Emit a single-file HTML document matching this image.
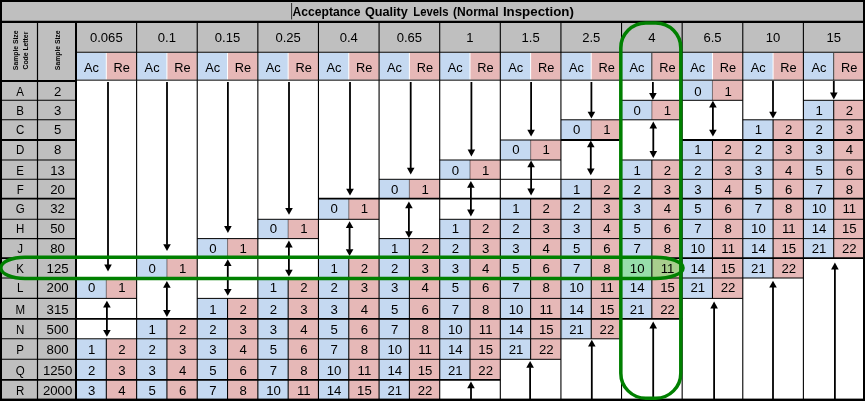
<!DOCTYPE html>
<html><head><meta charset="utf-8"><title>AQL Table</title>
<style>html,body{margin:0;padding:0;background:#fff;font-family:"Liberation Sans",sans-serif;}svg{display:block;will-change:transform;}</style>
</head><body>
<svg width="865" height="401" viewBox="0 0 865 401" font-family="Liberation Sans, sans-serif" fill="#000">
<rect x="0" y="0" width="865" height="401" fill="#fff"/>
<rect x="0" y="0" width="865" height="22" fill="#bfbfbf"/>
<rect x="0" y="22" width="76" height="379" fill="#bfbfbf"/>
<rect x="76" y="22" width="789" height="30.2" fill="#bfbfbf"/>
<rect x="76.50" y="52.8" width="29.31" height="26.9" fill="#c5d9f1"/>
<rect x="106.81" y="52.8" width="29.31" height="26.9" fill="#e6b8b7"/>
<rect x="137.12" y="52.8" width="29.31" height="26.9" fill="#c5d9f1"/>
<rect x="167.42" y="52.8" width="29.31" height="26.9" fill="#e6b8b7"/>
<rect x="197.73" y="52.8" width="29.31" height="26.9" fill="#c5d9f1"/>
<rect x="228.04" y="52.8" width="29.31" height="26.9" fill="#e6b8b7"/>
<rect x="258.35" y="52.8" width="29.31" height="26.9" fill="#c5d9f1"/>
<rect x="288.66" y="52.8" width="29.31" height="26.9" fill="#e6b8b7"/>
<rect x="318.96" y="52.8" width="29.31" height="26.9" fill="#c5d9f1"/>
<rect x="349.27" y="52.8" width="29.31" height="26.9" fill="#e6b8b7"/>
<rect x="379.58" y="52.8" width="29.31" height="26.9" fill="#c5d9f1"/>
<rect x="409.89" y="52.8" width="29.31" height="26.9" fill="#e6b8b7"/>
<rect x="440.20" y="52.8" width="29.31" height="26.9" fill="#c5d9f1"/>
<rect x="470.50" y="52.8" width="29.31" height="26.9" fill="#e6b8b7"/>
<rect x="500.81" y="52.8" width="29.31" height="26.9" fill="#c5d9f1"/>
<rect x="531.12" y="52.8" width="29.31" height="26.9" fill="#e6b8b7"/>
<rect x="561.43" y="52.8" width="29.31" height="26.9" fill="#c5d9f1"/>
<rect x="591.74" y="52.8" width="29.31" height="26.9" fill="#e6b8b7"/>
<rect x="622.04" y="52.8" width="29.31" height="26.9" fill="#c5d9f1"/>
<rect x="652.35" y="52.8" width="29.31" height="26.9" fill="#e6b8b7"/>
<rect x="682.66" y="52.8" width="29.31" height="26.9" fill="#c5d9f1"/>
<rect x="712.97" y="52.8" width="29.31" height="26.9" fill="#e6b8b7"/>
<rect x="743.28" y="52.8" width="29.31" height="26.9" fill="#c5d9f1"/>
<rect x="773.58" y="52.8" width="29.31" height="26.9" fill="#e6b8b7"/>
<rect x="803.89" y="52.8" width="29.31" height="26.9" fill="#c5d9f1"/>
<rect x="834.20" y="52.8" width="29.31" height="26.9" fill="#e6b8b7"/>
<rect x="76.00" y="278.00" width="30.31" height="20.40" fill="#c5d9f1"/>
<rect x="106.31" y="278.00" width="30.31" height="20.40" fill="#e6b8b7"/>
<rect x="76.00" y="338.80" width="30.31" height="20.50" fill="#c5d9f1"/>
<rect x="106.31" y="338.80" width="30.31" height="20.50" fill="#e6b8b7"/>
<rect x="76.00" y="359.30" width="30.31" height="20.50" fill="#c5d9f1"/>
<rect x="106.31" y="359.30" width="30.31" height="20.50" fill="#e6b8b7"/>
<rect x="76.00" y="379.80" width="30.31" height="19.70" fill="#c5d9f1"/>
<rect x="106.31" y="379.80" width="30.31" height="19.70" fill="#e6b8b7"/>
<rect x="136.62" y="258.20" width="30.31" height="19.80" fill="#c5d9f1"/>
<rect x="166.92" y="258.20" width="30.31" height="19.80" fill="#e6b8b7"/>
<rect x="136.62" y="318.80" width="30.31" height="20.00" fill="#c5d9f1"/>
<rect x="166.92" y="318.80" width="30.31" height="20.00" fill="#e6b8b7"/>
<rect x="136.62" y="338.80" width="30.31" height="20.50" fill="#c5d9f1"/>
<rect x="166.92" y="338.80" width="30.31" height="20.50" fill="#e6b8b7"/>
<rect x="136.62" y="359.30" width="30.31" height="20.50" fill="#c5d9f1"/>
<rect x="166.92" y="359.30" width="30.31" height="20.50" fill="#e6b8b7"/>
<rect x="136.62" y="379.80" width="30.31" height="19.70" fill="#c5d9f1"/>
<rect x="166.92" y="379.80" width="30.31" height="19.70" fill="#e6b8b7"/>
<rect x="197.23" y="238.60" width="30.31" height="19.60" fill="#c5d9f1"/>
<rect x="227.54" y="238.60" width="30.31" height="19.60" fill="#e6b8b7"/>
<rect x="197.23" y="298.40" width="30.31" height="20.40" fill="#c5d9f1"/>
<rect x="227.54" y="298.40" width="30.31" height="20.40" fill="#e6b8b7"/>
<rect x="197.23" y="318.80" width="30.31" height="20.00" fill="#c5d9f1"/>
<rect x="227.54" y="318.80" width="30.31" height="20.00" fill="#e6b8b7"/>
<rect x="197.23" y="338.80" width="30.31" height="20.50" fill="#c5d9f1"/>
<rect x="227.54" y="338.80" width="30.31" height="20.50" fill="#e6b8b7"/>
<rect x="197.23" y="359.30" width="30.31" height="20.50" fill="#c5d9f1"/>
<rect x="227.54" y="359.30" width="30.31" height="20.50" fill="#e6b8b7"/>
<rect x="197.23" y="379.80" width="30.31" height="19.70" fill="#c5d9f1"/>
<rect x="227.54" y="379.80" width="30.31" height="19.70" fill="#e6b8b7"/>
<rect x="257.85" y="219.30" width="30.31" height="19.30" fill="#c5d9f1"/>
<rect x="288.16" y="219.30" width="30.31" height="19.30" fill="#e6b8b7"/>
<rect x="257.85" y="278.00" width="30.31" height="20.40" fill="#c5d9f1"/>
<rect x="288.16" y="278.00" width="30.31" height="20.40" fill="#e6b8b7"/>
<rect x="257.85" y="298.40" width="30.31" height="20.40" fill="#c5d9f1"/>
<rect x="288.16" y="298.40" width="30.31" height="20.40" fill="#e6b8b7"/>
<rect x="257.85" y="318.80" width="30.31" height="20.00" fill="#c5d9f1"/>
<rect x="288.16" y="318.80" width="30.31" height="20.00" fill="#e6b8b7"/>
<rect x="257.85" y="338.80" width="30.31" height="20.50" fill="#c5d9f1"/>
<rect x="288.16" y="338.80" width="30.31" height="20.50" fill="#e6b8b7"/>
<rect x="257.85" y="359.30" width="30.31" height="20.50" fill="#c5d9f1"/>
<rect x="288.16" y="359.30" width="30.31" height="20.50" fill="#e6b8b7"/>
<rect x="257.85" y="379.80" width="30.31" height="19.70" fill="#c5d9f1"/>
<rect x="288.16" y="379.80" width="30.31" height="19.70" fill="#e6b8b7"/>
<rect x="318.46" y="198.60" width="30.31" height="20.70" fill="#c5d9f1"/>
<rect x="348.77" y="198.60" width="30.31" height="20.70" fill="#e6b8b7"/>
<rect x="318.46" y="258.20" width="30.31" height="19.80" fill="#c5d9f1"/>
<rect x="348.77" y="258.20" width="30.31" height="19.80" fill="#e6b8b7"/>
<rect x="318.46" y="278.00" width="30.31" height="20.40" fill="#c5d9f1"/>
<rect x="348.77" y="278.00" width="30.31" height="20.40" fill="#e6b8b7"/>
<rect x="318.46" y="298.40" width="30.31" height="20.40" fill="#c5d9f1"/>
<rect x="348.77" y="298.40" width="30.31" height="20.40" fill="#e6b8b7"/>
<rect x="318.46" y="318.80" width="30.31" height="20.00" fill="#c5d9f1"/>
<rect x="348.77" y="318.80" width="30.31" height="20.00" fill="#e6b8b7"/>
<rect x="318.46" y="338.80" width="30.31" height="20.50" fill="#c5d9f1"/>
<rect x="348.77" y="338.80" width="30.31" height="20.50" fill="#e6b8b7"/>
<rect x="318.46" y="359.30" width="30.31" height="20.50" fill="#c5d9f1"/>
<rect x="348.77" y="359.30" width="30.31" height="20.50" fill="#e6b8b7"/>
<rect x="318.46" y="379.80" width="30.31" height="19.70" fill="#c5d9f1"/>
<rect x="348.77" y="379.80" width="30.31" height="19.70" fill="#e6b8b7"/>
<rect x="379.08" y="179.30" width="30.31" height="19.30" fill="#c5d9f1"/>
<rect x="409.39" y="179.30" width="30.31" height="19.30" fill="#e6b8b7"/>
<rect x="379.08" y="238.60" width="30.31" height="19.60" fill="#c5d9f1"/>
<rect x="409.39" y="238.60" width="30.31" height="19.60" fill="#e6b8b7"/>
<rect x="379.08" y="258.20" width="30.31" height="19.80" fill="#c5d9f1"/>
<rect x="409.39" y="258.20" width="30.31" height="19.80" fill="#e6b8b7"/>
<rect x="379.08" y="278.00" width="30.31" height="20.40" fill="#c5d9f1"/>
<rect x="409.39" y="278.00" width="30.31" height="20.40" fill="#e6b8b7"/>
<rect x="379.08" y="298.40" width="30.31" height="20.40" fill="#c5d9f1"/>
<rect x="409.39" y="298.40" width="30.31" height="20.40" fill="#e6b8b7"/>
<rect x="379.08" y="318.80" width="30.31" height="20.00" fill="#c5d9f1"/>
<rect x="409.39" y="318.80" width="30.31" height="20.00" fill="#e6b8b7"/>
<rect x="379.08" y="338.80" width="30.31" height="20.50" fill="#c5d9f1"/>
<rect x="409.39" y="338.80" width="30.31" height="20.50" fill="#e6b8b7"/>
<rect x="379.08" y="359.30" width="30.31" height="20.50" fill="#c5d9f1"/>
<rect x="409.39" y="359.30" width="30.31" height="20.50" fill="#e6b8b7"/>
<rect x="379.08" y="379.80" width="30.31" height="19.70" fill="#c5d9f1"/>
<rect x="409.39" y="379.80" width="30.31" height="19.70" fill="#e6b8b7"/>
<rect x="439.70" y="160.00" width="30.31" height="19.30" fill="#c5d9f1"/>
<rect x="470.00" y="160.00" width="30.31" height="19.30" fill="#e6b8b7"/>
<rect x="439.70" y="219.30" width="30.31" height="19.30" fill="#c5d9f1"/>
<rect x="470.00" y="219.30" width="30.31" height="19.30" fill="#e6b8b7"/>
<rect x="439.70" y="238.60" width="30.31" height="19.60" fill="#c5d9f1"/>
<rect x="470.00" y="238.60" width="30.31" height="19.60" fill="#e6b8b7"/>
<rect x="439.70" y="258.20" width="30.31" height="19.80" fill="#c5d9f1"/>
<rect x="470.00" y="258.20" width="30.31" height="19.80" fill="#e6b8b7"/>
<rect x="439.70" y="278.00" width="30.31" height="20.40" fill="#c5d9f1"/>
<rect x="470.00" y="278.00" width="30.31" height="20.40" fill="#e6b8b7"/>
<rect x="439.70" y="298.40" width="30.31" height="20.40" fill="#c5d9f1"/>
<rect x="470.00" y="298.40" width="30.31" height="20.40" fill="#e6b8b7"/>
<rect x="439.70" y="318.80" width="30.31" height="20.00" fill="#c5d9f1"/>
<rect x="470.00" y="318.80" width="30.31" height="20.00" fill="#e6b8b7"/>
<rect x="439.70" y="338.80" width="30.31" height="20.50" fill="#c5d9f1"/>
<rect x="470.00" y="338.80" width="30.31" height="20.50" fill="#e6b8b7"/>
<rect x="439.70" y="359.30" width="30.31" height="20.50" fill="#c5d9f1"/>
<rect x="470.00" y="359.30" width="30.31" height="20.50" fill="#e6b8b7"/>
<rect x="500.31" y="140.00" width="30.31" height="20.00" fill="#c5d9f1"/>
<rect x="530.62" y="140.00" width="30.31" height="20.00" fill="#e6b8b7"/>
<rect x="500.31" y="198.60" width="30.31" height="20.70" fill="#c5d9f1"/>
<rect x="530.62" y="198.60" width="30.31" height="20.70" fill="#e6b8b7"/>
<rect x="500.31" y="219.30" width="30.31" height="19.30" fill="#c5d9f1"/>
<rect x="530.62" y="219.30" width="30.31" height="19.30" fill="#e6b8b7"/>
<rect x="500.31" y="238.60" width="30.31" height="19.60" fill="#c5d9f1"/>
<rect x="530.62" y="238.60" width="30.31" height="19.60" fill="#e6b8b7"/>
<rect x="500.31" y="258.20" width="30.31" height="19.80" fill="#c5d9f1"/>
<rect x="530.62" y="258.20" width="30.31" height="19.80" fill="#e6b8b7"/>
<rect x="500.31" y="278.00" width="30.31" height="20.40" fill="#c5d9f1"/>
<rect x="530.62" y="278.00" width="30.31" height="20.40" fill="#e6b8b7"/>
<rect x="500.31" y="298.40" width="30.31" height="20.40" fill="#c5d9f1"/>
<rect x="530.62" y="298.40" width="30.31" height="20.40" fill="#e6b8b7"/>
<rect x="500.31" y="318.80" width="30.31" height="20.00" fill="#c5d9f1"/>
<rect x="530.62" y="318.80" width="30.31" height="20.00" fill="#e6b8b7"/>
<rect x="500.31" y="338.80" width="30.31" height="20.50" fill="#c5d9f1"/>
<rect x="530.62" y="338.80" width="30.31" height="20.50" fill="#e6b8b7"/>
<rect x="560.93" y="119.80" width="30.31" height="20.20" fill="#c5d9f1"/>
<rect x="591.24" y="119.80" width="30.31" height="20.20" fill="#e6b8b7"/>
<rect x="560.93" y="179.30" width="30.31" height="19.30" fill="#c5d9f1"/>
<rect x="591.24" y="179.30" width="30.31" height="19.30" fill="#e6b8b7"/>
<rect x="560.93" y="198.60" width="30.31" height="20.70" fill="#c5d9f1"/>
<rect x="591.24" y="198.60" width="30.31" height="20.70" fill="#e6b8b7"/>
<rect x="560.93" y="219.30" width="30.31" height="19.30" fill="#c5d9f1"/>
<rect x="591.24" y="219.30" width="30.31" height="19.30" fill="#e6b8b7"/>
<rect x="560.93" y="238.60" width="30.31" height="19.60" fill="#c5d9f1"/>
<rect x="591.24" y="238.60" width="30.31" height="19.60" fill="#e6b8b7"/>
<rect x="560.93" y="258.20" width="30.31" height="19.80" fill="#c5d9f1"/>
<rect x="591.24" y="258.20" width="30.31" height="19.80" fill="#e6b8b7"/>
<rect x="560.93" y="278.00" width="30.31" height="20.40" fill="#c5d9f1"/>
<rect x="591.24" y="278.00" width="30.31" height="20.40" fill="#e6b8b7"/>
<rect x="560.93" y="298.40" width="30.31" height="20.40" fill="#c5d9f1"/>
<rect x="591.24" y="298.40" width="30.31" height="20.40" fill="#e6b8b7"/>
<rect x="560.93" y="318.80" width="30.31" height="20.00" fill="#c5d9f1"/>
<rect x="591.24" y="318.80" width="30.31" height="20.00" fill="#e6b8b7"/>
<rect x="621.54" y="100.30" width="30.31" height="19.50" fill="#c5d9f1"/>
<rect x="651.85" y="100.30" width="30.31" height="19.50" fill="#e6b8b7"/>
<rect x="621.54" y="160.00" width="30.31" height="19.30" fill="#c5d9f1"/>
<rect x="651.85" y="160.00" width="30.31" height="19.30" fill="#e6b8b7"/>
<rect x="621.54" y="179.30" width="30.31" height="19.30" fill="#c5d9f1"/>
<rect x="651.85" y="179.30" width="30.31" height="19.30" fill="#e6b8b7"/>
<rect x="621.54" y="198.60" width="30.31" height="20.70" fill="#c5d9f1"/>
<rect x="651.85" y="198.60" width="30.31" height="20.70" fill="#e6b8b7"/>
<rect x="621.54" y="219.30" width="30.31" height="19.30" fill="#c5d9f1"/>
<rect x="651.85" y="219.30" width="30.31" height="19.30" fill="#e6b8b7"/>
<rect x="621.54" y="238.60" width="30.31" height="19.60" fill="#c5d9f1"/>
<rect x="651.85" y="238.60" width="30.31" height="19.60" fill="#e6b8b7"/>
<rect x="621.54" y="258.20" width="30.31" height="19.80" fill="#c5d9f1"/>
<rect x="651.85" y="258.20" width="30.31" height="19.80" fill="#e6b8b7"/>
<rect x="621.54" y="278.00" width="30.31" height="20.40" fill="#c5d9f1"/>
<rect x="651.85" y="278.00" width="30.31" height="20.40" fill="#e6b8b7"/>
<rect x="621.54" y="298.40" width="30.31" height="20.40" fill="#c5d9f1"/>
<rect x="651.85" y="298.40" width="30.31" height="20.40" fill="#e6b8b7"/>
<rect x="682.16" y="80.40" width="30.31" height="19.90" fill="#c5d9f1"/>
<rect x="712.47" y="80.40" width="30.31" height="19.90" fill="#e6b8b7"/>
<rect x="682.16" y="140.00" width="30.31" height="20.00" fill="#c5d9f1"/>
<rect x="712.47" y="140.00" width="30.31" height="20.00" fill="#e6b8b7"/>
<rect x="682.16" y="160.00" width="30.31" height="19.30" fill="#c5d9f1"/>
<rect x="712.47" y="160.00" width="30.31" height="19.30" fill="#e6b8b7"/>
<rect x="682.16" y="179.30" width="30.31" height="19.30" fill="#c5d9f1"/>
<rect x="712.47" y="179.30" width="30.31" height="19.30" fill="#e6b8b7"/>
<rect x="682.16" y="198.60" width="30.31" height="20.70" fill="#c5d9f1"/>
<rect x="712.47" y="198.60" width="30.31" height="20.70" fill="#e6b8b7"/>
<rect x="682.16" y="219.30" width="30.31" height="19.30" fill="#c5d9f1"/>
<rect x="712.47" y="219.30" width="30.31" height="19.30" fill="#e6b8b7"/>
<rect x="682.16" y="238.60" width="30.31" height="19.60" fill="#c5d9f1"/>
<rect x="712.47" y="238.60" width="30.31" height="19.60" fill="#e6b8b7"/>
<rect x="682.16" y="258.20" width="30.31" height="19.80" fill="#c5d9f1"/>
<rect x="712.47" y="258.20" width="30.31" height="19.80" fill="#e6b8b7"/>
<rect x="682.16" y="278.00" width="30.31" height="20.40" fill="#c5d9f1"/>
<rect x="712.47" y="278.00" width="30.31" height="20.40" fill="#e6b8b7"/>
<rect x="742.78" y="119.80" width="30.31" height="20.20" fill="#c5d9f1"/>
<rect x="773.08" y="119.80" width="30.31" height="20.20" fill="#e6b8b7"/>
<rect x="742.78" y="140.00" width="30.31" height="20.00" fill="#c5d9f1"/>
<rect x="773.08" y="140.00" width="30.31" height="20.00" fill="#e6b8b7"/>
<rect x="742.78" y="160.00" width="30.31" height="19.30" fill="#c5d9f1"/>
<rect x="773.08" y="160.00" width="30.31" height="19.30" fill="#e6b8b7"/>
<rect x="742.78" y="179.30" width="30.31" height="19.30" fill="#c5d9f1"/>
<rect x="773.08" y="179.30" width="30.31" height="19.30" fill="#e6b8b7"/>
<rect x="742.78" y="198.60" width="30.31" height="20.70" fill="#c5d9f1"/>
<rect x="773.08" y="198.60" width="30.31" height="20.70" fill="#e6b8b7"/>
<rect x="742.78" y="219.30" width="30.31" height="19.30" fill="#c5d9f1"/>
<rect x="773.08" y="219.30" width="30.31" height="19.30" fill="#e6b8b7"/>
<rect x="742.78" y="238.60" width="30.31" height="19.60" fill="#c5d9f1"/>
<rect x="773.08" y="238.60" width="30.31" height="19.60" fill="#e6b8b7"/>
<rect x="742.78" y="258.20" width="30.31" height="19.80" fill="#c5d9f1"/>
<rect x="773.08" y="258.20" width="30.31" height="19.80" fill="#e6b8b7"/>
<rect x="803.39" y="100.30" width="30.31" height="19.50" fill="#c5d9f1"/>
<rect x="833.70" y="100.30" width="30.31" height="19.50" fill="#e6b8b7"/>
<rect x="803.39" y="119.80" width="30.31" height="20.20" fill="#c5d9f1"/>
<rect x="833.70" y="119.80" width="30.31" height="20.20" fill="#e6b8b7"/>
<rect x="803.39" y="140.00" width="30.31" height="20.00" fill="#c5d9f1"/>
<rect x="833.70" y="140.00" width="30.31" height="20.00" fill="#e6b8b7"/>
<rect x="803.39" y="160.00" width="30.31" height="19.30" fill="#c5d9f1"/>
<rect x="833.70" y="160.00" width="30.31" height="19.30" fill="#e6b8b7"/>
<rect x="803.39" y="179.30" width="30.31" height="19.30" fill="#c5d9f1"/>
<rect x="833.70" y="179.30" width="30.31" height="19.30" fill="#e6b8b7"/>
<rect x="803.39" y="198.60" width="30.31" height="20.70" fill="#c5d9f1"/>
<rect x="833.70" y="198.60" width="30.31" height="20.70" fill="#e6b8b7"/>
<rect x="803.39" y="219.30" width="30.31" height="19.30" fill="#c5d9f1"/>
<rect x="833.70" y="219.30" width="30.31" height="19.30" fill="#e6b8b7"/>
<rect x="803.39" y="238.60" width="30.31" height="19.60" fill="#c5d9f1"/>
<rect x="833.70" y="238.60" width="30.31" height="19.60" fill="#e6b8b7"/>
<defs><clipPath id="cv"><rect x="620.8" y="23" width="60" height="375.2" rx="25" ry="25"/></clipPath></defs>
<path d="M24.9 257.3 H655.1 A28 10.599999999999994 0 0 1 683.1 267.9 A28 10.599999999999994 0 0 1 655.1 278.5 H24.9 A24 10.599999999999994 0 0 1 0.9 267.9 A24 10.599999999999994 0 0 1 24.9 257.3 Z" fill="rgba(105,228,100,0.5)" clip-path="url(#cv)"/>
<line x1="0.00" y1="100.30" x2="76.00" y2="100.30" stroke="#000" stroke-width="1.1" stroke-opacity="1"/>
<line x1="0.00" y1="119.80" x2="76.00" y2="119.80" stroke="#000" stroke-width="1.1" stroke-opacity="1"/>
<line x1="0.00" y1="140.00" x2="76.00" y2="140.00" stroke="#000" stroke-width="1.8" stroke-opacity="1"/>
<line x1="0.00" y1="160.00" x2="76.00" y2="160.00" stroke="#000" stroke-width="1.1" stroke-opacity="1"/>
<line x1="0.00" y1="179.30" x2="76.00" y2="179.30" stroke="#000" stroke-width="1.1" stroke-opacity="1"/>
<line x1="0.00" y1="198.60" x2="76.00" y2="198.60" stroke="#000" stroke-width="1.8" stroke-opacity="1"/>
<line x1="0.00" y1="219.30" x2="76.00" y2="219.30" stroke="#000" stroke-width="1.1" stroke-opacity="1"/>
<line x1="0.00" y1="238.60" x2="76.00" y2="238.60" stroke="#000" stroke-width="1.1" stroke-opacity="1"/>
<line x1="0.00" y1="258.20" x2="76.00" y2="258.20" stroke="#000" stroke-width="1.8" stroke-opacity="1"/>
<line x1="0.00" y1="278.00" x2="76.00" y2="278.00" stroke="#000" stroke-width="1.1" stroke-opacity="1"/>
<line x1="0.00" y1="298.40" x2="76.00" y2="298.40" stroke="#000" stroke-width="1.1" stroke-opacity="1"/>
<line x1="0.00" y1="318.80" x2="76.00" y2="318.80" stroke="#000" stroke-width="1.8" stroke-opacity="1"/>
<line x1="0.00" y1="338.80" x2="76.00" y2="338.80" stroke="#000" stroke-width="1.1" stroke-opacity="1"/>
<line x1="0.00" y1="359.30" x2="76.00" y2="359.30" stroke="#000" stroke-width="1.1" stroke-opacity="1"/>
<line x1="0.00" y1="379.80" x2="76.00" y2="379.80" stroke="#000" stroke-width="1.8" stroke-opacity="1"/>
<line x1="37.50" y1="22.00" x2="37.50" y2="401.00" stroke="#000" stroke-width="1.2" stroke-opacity="1"/>
<line x1="76.00" y1="52.25" x2="865.00" y2="52.25" stroke="#000" stroke-width="1.1" stroke-opacity="1"/>
<line x1="136.62" y1="22.00" x2="136.62" y2="80.40" stroke="#000" stroke-width="1.1" stroke-opacity="1"/>
<line x1="197.23" y1="22.00" x2="197.23" y2="80.40" stroke="#000" stroke-width="1.1" stroke-opacity="1"/>
<line x1="257.85" y1="22.00" x2="257.85" y2="80.40" stroke="#000" stroke-width="1.1" stroke-opacity="1"/>
<line x1="318.46" y1="22.00" x2="318.46" y2="80.40" stroke="#000" stroke-width="1.1" stroke-opacity="1"/>
<line x1="379.08" y1="22.00" x2="379.08" y2="80.40" stroke="#000" stroke-width="1.1" stroke-opacity="1"/>
<line x1="439.70" y1="22.00" x2="439.70" y2="80.40" stroke="#000" stroke-width="1.1" stroke-opacity="1"/>
<line x1="500.31" y1="22.00" x2="500.31" y2="80.40" stroke="#000" stroke-width="1.1" stroke-opacity="1"/>
<line x1="560.93" y1="22.00" x2="560.93" y2="80.40" stroke="#000" stroke-width="1.1" stroke-opacity="1"/>
<line x1="621.54" y1="22.00" x2="621.54" y2="80.40" stroke="#000" stroke-width="1.1" stroke-opacity="1"/>
<line x1="682.16" y1="22.00" x2="682.16" y2="80.40" stroke="#000" stroke-width="1.1" stroke-opacity="1"/>
<line x1="742.78" y1="22.00" x2="742.78" y2="80.40" stroke="#000" stroke-width="1.1" stroke-opacity="1"/>
<line x1="803.39" y1="22.00" x2="803.39" y2="80.40" stroke="#000" stroke-width="1.1" stroke-opacity="1"/>
<line x1="136.62" y1="80.40" x2="136.62" y2="399.50" stroke="#000" stroke-width="1.1" stroke-opacity="1"/>
<line x1="197.23" y1="80.40" x2="197.23" y2="399.50" stroke="#000" stroke-width="1.1" stroke-opacity="1"/>
<line x1="257.85" y1="80.40" x2="257.85" y2="399.50" stroke="#000" stroke-width="1.1" stroke-opacity="1"/>
<line x1="318.46" y1="80.40" x2="318.46" y2="399.50" stroke="#000" stroke-width="1.1" stroke-opacity="1"/>
<line x1="379.08" y1="80.40" x2="379.08" y2="399.50" stroke="#000" stroke-width="1.1" stroke-opacity="1"/>
<line x1="439.70" y1="80.40" x2="439.70" y2="399.50" stroke="#000" stroke-width="1.1" stroke-opacity="1"/>
<line x1="500.31" y1="80.40" x2="500.31" y2="399.50" stroke="#000" stroke-width="1.1" stroke-opacity="1"/>
<line x1="560.93" y1="80.40" x2="560.93" y2="399.50" stroke="#000" stroke-width="1.1" stroke-opacity="1"/>
<line x1="621.54" y1="80.40" x2="621.54" y2="399.50" stroke="#000" stroke-width="1.1" stroke-opacity="1"/>
<line x1="682.16" y1="80.40" x2="682.16" y2="399.50" stroke="#000" stroke-width="1.1" stroke-opacity="1"/>
<line x1="742.78" y1="80.40" x2="742.78" y2="399.50" stroke="#000" stroke-width="1.1" stroke-opacity="1"/>
<line x1="803.39" y1="80.40" x2="803.39" y2="399.50" stroke="#000" stroke-width="1.1" stroke-opacity="1"/>
<line x1="76.00" y1="278.00" x2="136.62" y2="278.00" stroke="#000" stroke-width="1.0" stroke-opacity="1"/>
<line x1="76.00" y1="298.40" x2="136.62" y2="298.40" stroke="#000" stroke-width="1.0" stroke-opacity="1"/>
<line x1="76.00" y1="338.80" x2="136.62" y2="338.80" stroke="#000" stroke-width="1.0" stroke-opacity="1"/>
<line x1="76.00" y1="359.30" x2="136.62" y2="359.30" stroke="#000" stroke-width="1.0" stroke-opacity="1"/>
<line x1="76.00" y1="379.80" x2="136.62" y2="379.80" stroke="#000" stroke-width="1.8" stroke-opacity="1"/>
<line x1="106.31" y1="278.00" x2="106.31" y2="298.40" stroke="#000" stroke-width="1.05" stroke-opacity="0.45"/>
<line x1="106.31" y1="338.80" x2="106.31" y2="359.30" stroke="#000" stroke-width="1.05" stroke-opacity="1"/>
<line x1="106.31" y1="359.30" x2="106.31" y2="379.80" stroke="#000" stroke-width="1.05" stroke-opacity="1"/>
<line x1="106.31" y1="379.80" x2="106.31" y2="399.50" stroke="#000" stroke-width="1.05" stroke-opacity="1"/>
<line x1="136.62" y1="258.20" x2="197.23" y2="258.20" stroke="#000" stroke-width="1.8" stroke-opacity="1"/>
<line x1="136.62" y1="278.00" x2="197.23" y2="278.00" stroke="#000" stroke-width="1.0" stroke-opacity="1"/>
<line x1="136.62" y1="318.80" x2="197.23" y2="318.80" stroke="#000" stroke-width="1.8" stroke-opacity="1"/>
<line x1="136.62" y1="338.80" x2="197.23" y2="338.80" stroke="#000" stroke-width="1.0" stroke-opacity="1"/>
<line x1="136.62" y1="359.30" x2="197.23" y2="359.30" stroke="#000" stroke-width="1.0" stroke-opacity="1"/>
<line x1="136.62" y1="379.80" x2="197.23" y2="379.80" stroke="#000" stroke-width="1.8" stroke-opacity="1"/>
<line x1="166.92" y1="258.20" x2="166.92" y2="278.00" stroke="#000" stroke-width="1.05" stroke-opacity="0.45"/>
<line x1="166.92" y1="318.80" x2="166.92" y2="338.80" stroke="#000" stroke-width="1.05" stroke-opacity="1"/>
<line x1="166.92" y1="338.80" x2="166.92" y2="359.30" stroke="#000" stroke-width="1.05" stroke-opacity="1"/>
<line x1="166.92" y1="359.30" x2="166.92" y2="379.80" stroke="#000" stroke-width="1.05" stroke-opacity="1"/>
<line x1="166.92" y1="379.80" x2="166.92" y2="399.50" stroke="#000" stroke-width="1.05" stroke-opacity="1"/>
<line x1="197.23" y1="238.60" x2="257.85" y2="238.60" stroke="#000" stroke-width="1.0" stroke-opacity="1"/>
<line x1="197.23" y1="258.20" x2="257.85" y2="258.20" stroke="#000" stroke-width="1.8" stroke-opacity="1"/>
<line x1="197.23" y1="298.40" x2="257.85" y2="298.40" stroke="#000" stroke-width="1.0" stroke-opacity="1"/>
<line x1="197.23" y1="318.80" x2="257.85" y2="318.80" stroke="#000" stroke-width="1.8" stroke-opacity="1"/>
<line x1="197.23" y1="338.80" x2="257.85" y2="338.80" stroke="#000" stroke-width="1.0" stroke-opacity="1"/>
<line x1="197.23" y1="359.30" x2="257.85" y2="359.30" stroke="#000" stroke-width="1.0" stroke-opacity="1"/>
<line x1="197.23" y1="379.80" x2="257.85" y2="379.80" stroke="#000" stroke-width="1.8" stroke-opacity="1"/>
<line x1="227.54" y1="238.60" x2="227.54" y2="258.20" stroke="#000" stroke-width="1.05" stroke-opacity="0.45"/>
<line x1="227.54" y1="298.40" x2="227.54" y2="318.80" stroke="#000" stroke-width="1.05" stroke-opacity="1"/>
<line x1="227.54" y1="318.80" x2="227.54" y2="338.80" stroke="#000" stroke-width="1.05" stroke-opacity="1"/>
<line x1="227.54" y1="338.80" x2="227.54" y2="359.30" stroke="#000" stroke-width="1.05" stroke-opacity="1"/>
<line x1="227.54" y1="359.30" x2="227.54" y2="379.80" stroke="#000" stroke-width="1.05" stroke-opacity="1"/>
<line x1="227.54" y1="379.80" x2="227.54" y2="399.50" stroke="#000" stroke-width="1.05" stroke-opacity="1"/>
<line x1="257.85" y1="219.30" x2="318.46" y2="219.30" stroke="#000" stroke-width="1.0" stroke-opacity="1"/>
<line x1="257.85" y1="238.60" x2="318.46" y2="238.60" stroke="#000" stroke-width="1.0" stroke-opacity="1"/>
<line x1="257.85" y1="278.00" x2="318.46" y2="278.00" stroke="#000" stroke-width="1.0" stroke-opacity="1"/>
<line x1="257.85" y1="298.40" x2="318.46" y2="298.40" stroke="#000" stroke-width="1.0" stroke-opacity="1"/>
<line x1="257.85" y1="318.80" x2="318.46" y2="318.80" stroke="#000" stroke-width="1.8" stroke-opacity="1"/>
<line x1="257.85" y1="338.80" x2="318.46" y2="338.80" stroke="#000" stroke-width="1.0" stroke-opacity="1"/>
<line x1="257.85" y1="359.30" x2="318.46" y2="359.30" stroke="#000" stroke-width="1.0" stroke-opacity="1"/>
<line x1="257.85" y1="379.80" x2="318.46" y2="379.80" stroke="#000" stroke-width="1.8" stroke-opacity="1"/>
<line x1="288.16" y1="219.30" x2="288.16" y2="238.60" stroke="#000" stroke-width="1.05" stroke-opacity="0.45"/>
<line x1="288.16" y1="278.00" x2="288.16" y2="298.40" stroke="#000" stroke-width="1.05" stroke-opacity="1"/>
<line x1="288.16" y1="298.40" x2="288.16" y2="318.80" stroke="#000" stroke-width="1.05" stroke-opacity="1"/>
<line x1="288.16" y1="318.80" x2="288.16" y2="338.80" stroke="#000" stroke-width="1.05" stroke-opacity="1"/>
<line x1="288.16" y1="338.80" x2="288.16" y2="359.30" stroke="#000" stroke-width="1.05" stroke-opacity="1"/>
<line x1="288.16" y1="359.30" x2="288.16" y2="379.80" stroke="#000" stroke-width="1.05" stroke-opacity="1"/>
<line x1="288.16" y1="379.80" x2="288.16" y2="399.50" stroke="#000" stroke-width="1.05" stroke-opacity="1"/>
<line x1="318.46" y1="198.60" x2="379.08" y2="198.60" stroke="#000" stroke-width="1.8" stroke-opacity="1"/>
<line x1="318.46" y1="219.30" x2="379.08" y2="219.30" stroke="#000" stroke-width="1.0" stroke-opacity="1"/>
<line x1="318.46" y1="258.20" x2="379.08" y2="258.20" stroke="#000" stroke-width="1.8" stroke-opacity="1"/>
<line x1="318.46" y1="278.00" x2="379.08" y2="278.00" stroke="#000" stroke-width="1.0" stroke-opacity="1"/>
<line x1="318.46" y1="298.40" x2="379.08" y2="298.40" stroke="#000" stroke-width="1.0" stroke-opacity="1"/>
<line x1="318.46" y1="318.80" x2="379.08" y2="318.80" stroke="#000" stroke-width="1.8" stroke-opacity="1"/>
<line x1="318.46" y1="338.80" x2="379.08" y2="338.80" stroke="#000" stroke-width="1.0" stroke-opacity="1"/>
<line x1="318.46" y1="359.30" x2="379.08" y2="359.30" stroke="#000" stroke-width="1.0" stroke-opacity="1"/>
<line x1="318.46" y1="379.80" x2="379.08" y2="379.80" stroke="#000" stroke-width="1.8" stroke-opacity="1"/>
<line x1="348.77" y1="198.60" x2="348.77" y2="219.30" stroke="#000" stroke-width="1.05" stroke-opacity="0.45"/>
<line x1="348.77" y1="258.20" x2="348.77" y2="278.00" stroke="#000" stroke-width="1.05" stroke-opacity="1"/>
<line x1="348.77" y1="278.00" x2="348.77" y2="298.40" stroke="#000" stroke-width="1.05" stroke-opacity="1"/>
<line x1="348.77" y1="298.40" x2="348.77" y2="318.80" stroke="#000" stroke-width="1.05" stroke-opacity="1"/>
<line x1="348.77" y1="318.80" x2="348.77" y2="338.80" stroke="#000" stroke-width="1.05" stroke-opacity="1"/>
<line x1="348.77" y1="338.80" x2="348.77" y2="359.30" stroke="#000" stroke-width="1.05" stroke-opacity="1"/>
<line x1="348.77" y1="359.30" x2="348.77" y2="379.80" stroke="#000" stroke-width="1.05" stroke-opacity="1"/>
<line x1="348.77" y1="379.80" x2="348.77" y2="399.50" stroke="#000" stroke-width="1.05" stroke-opacity="1"/>
<line x1="379.08" y1="179.30" x2="439.70" y2="179.30" stroke="#000" stroke-width="1.0" stroke-opacity="1"/>
<line x1="379.08" y1="198.60" x2="439.70" y2="198.60" stroke="#000" stroke-width="1.8" stroke-opacity="1"/>
<line x1="379.08" y1="238.60" x2="439.70" y2="238.60" stroke="#000" stroke-width="1.0" stroke-opacity="1"/>
<line x1="379.08" y1="258.20" x2="439.70" y2="258.20" stroke="#000" stroke-width="1.8" stroke-opacity="1"/>
<line x1="379.08" y1="278.00" x2="439.70" y2="278.00" stroke="#000" stroke-width="1.0" stroke-opacity="1"/>
<line x1="379.08" y1="298.40" x2="439.70" y2="298.40" stroke="#000" stroke-width="1.0" stroke-opacity="1"/>
<line x1="379.08" y1="318.80" x2="439.70" y2="318.80" stroke="#000" stroke-width="1.8" stroke-opacity="1"/>
<line x1="379.08" y1="338.80" x2="439.70" y2="338.80" stroke="#000" stroke-width="1.0" stroke-opacity="1"/>
<line x1="379.08" y1="359.30" x2="439.70" y2="359.30" stroke="#000" stroke-width="1.0" stroke-opacity="1"/>
<line x1="379.08" y1="379.80" x2="439.70" y2="379.80" stroke="#000" stroke-width="1.8" stroke-opacity="1"/>
<line x1="409.39" y1="179.30" x2="409.39" y2="198.60" stroke="#000" stroke-width="1.05" stroke-opacity="0.45"/>
<line x1="409.39" y1="238.60" x2="409.39" y2="258.20" stroke="#000" stroke-width="1.05" stroke-opacity="1"/>
<line x1="409.39" y1="258.20" x2="409.39" y2="278.00" stroke="#000" stroke-width="1.05" stroke-opacity="1"/>
<line x1="409.39" y1="278.00" x2="409.39" y2="298.40" stroke="#000" stroke-width="1.05" stroke-opacity="1"/>
<line x1="409.39" y1="298.40" x2="409.39" y2="318.80" stroke="#000" stroke-width="1.05" stroke-opacity="1"/>
<line x1="409.39" y1="318.80" x2="409.39" y2="338.80" stroke="#000" stroke-width="1.05" stroke-opacity="1"/>
<line x1="409.39" y1="338.80" x2="409.39" y2="359.30" stroke="#000" stroke-width="1.05" stroke-opacity="1"/>
<line x1="409.39" y1="359.30" x2="409.39" y2="379.80" stroke="#000" stroke-width="1.05" stroke-opacity="1"/>
<line x1="409.39" y1="379.80" x2="409.39" y2="399.50" stroke="#000" stroke-width="1.05" stroke-opacity="1"/>
<line x1="439.70" y1="160.00" x2="500.31" y2="160.00" stroke="#000" stroke-width="1.0" stroke-opacity="1"/>
<line x1="439.70" y1="179.30" x2="500.31" y2="179.30" stroke="#000" stroke-width="1.0" stroke-opacity="1"/>
<line x1="439.70" y1="219.30" x2="500.31" y2="219.30" stroke="#000" stroke-width="1.0" stroke-opacity="1"/>
<line x1="439.70" y1="238.60" x2="500.31" y2="238.60" stroke="#000" stroke-width="1.0" stroke-opacity="1"/>
<line x1="439.70" y1="258.20" x2="500.31" y2="258.20" stroke="#000" stroke-width="1.8" stroke-opacity="1"/>
<line x1="439.70" y1="278.00" x2="500.31" y2="278.00" stroke="#000" stroke-width="1.0" stroke-opacity="1"/>
<line x1="439.70" y1="298.40" x2="500.31" y2="298.40" stroke="#000" stroke-width="1.0" stroke-opacity="1"/>
<line x1="439.70" y1="318.80" x2="500.31" y2="318.80" stroke="#000" stroke-width="1.8" stroke-opacity="1"/>
<line x1="439.70" y1="338.80" x2="500.31" y2="338.80" stroke="#000" stroke-width="1.0" stroke-opacity="1"/>
<line x1="439.70" y1="359.30" x2="500.31" y2="359.30" stroke="#000" stroke-width="1.0" stroke-opacity="1"/>
<line x1="439.70" y1="379.80" x2="500.31" y2="379.80" stroke="#000" stroke-width="1.8" stroke-opacity="1"/>
<line x1="470.00" y1="160.00" x2="470.00" y2="179.30" stroke="#000" stroke-width="1.05" stroke-opacity="0.45"/>
<line x1="470.00" y1="219.30" x2="470.00" y2="238.60" stroke="#000" stroke-width="1.05" stroke-opacity="1"/>
<line x1="470.00" y1="238.60" x2="470.00" y2="258.20" stroke="#000" stroke-width="1.05" stroke-opacity="1"/>
<line x1="470.00" y1="258.20" x2="470.00" y2="278.00" stroke="#000" stroke-width="1.05" stroke-opacity="1"/>
<line x1="470.00" y1="278.00" x2="470.00" y2="298.40" stroke="#000" stroke-width="1.05" stroke-opacity="1"/>
<line x1="470.00" y1="298.40" x2="470.00" y2="318.80" stroke="#000" stroke-width="1.05" stroke-opacity="1"/>
<line x1="470.00" y1="318.80" x2="470.00" y2="338.80" stroke="#000" stroke-width="1.05" stroke-opacity="1"/>
<line x1="470.00" y1="338.80" x2="470.00" y2="359.30" stroke="#000" stroke-width="1.05" stroke-opacity="1"/>
<line x1="470.00" y1="359.30" x2="470.00" y2="379.80" stroke="#000" stroke-width="1.05" stroke-opacity="1"/>
<line x1="500.31" y1="140.00" x2="560.93" y2="140.00" stroke="#000" stroke-width="1.0" stroke-opacity="1"/>
<line x1="500.31" y1="160.00" x2="560.93" y2="160.00" stroke="#000" stroke-width="1.0" stroke-opacity="1"/>
<line x1="500.31" y1="198.60" x2="560.93" y2="198.60" stroke="#000" stroke-width="1.8" stroke-opacity="1"/>
<line x1="500.31" y1="219.30" x2="560.93" y2="219.30" stroke="#000" stroke-width="1.0" stroke-opacity="1"/>
<line x1="500.31" y1="238.60" x2="560.93" y2="238.60" stroke="#000" stroke-width="1.0" stroke-opacity="1"/>
<line x1="500.31" y1="258.20" x2="560.93" y2="258.20" stroke="#000" stroke-width="1.8" stroke-opacity="1"/>
<line x1="500.31" y1="278.00" x2="560.93" y2="278.00" stroke="#000" stroke-width="1.0" stroke-opacity="1"/>
<line x1="500.31" y1="298.40" x2="560.93" y2="298.40" stroke="#000" stroke-width="1.0" stroke-opacity="1"/>
<line x1="500.31" y1="318.80" x2="560.93" y2="318.80" stroke="#000" stroke-width="1.8" stroke-opacity="1"/>
<line x1="500.31" y1="338.80" x2="560.93" y2="338.80" stroke="#000" stroke-width="1.0" stroke-opacity="1"/>
<line x1="500.31" y1="359.30" x2="560.93" y2="359.30" stroke="#000" stroke-width="1.0" stroke-opacity="1"/>
<line x1="530.62" y1="140.00" x2="530.62" y2="160.00" stroke="#000" stroke-width="1.05" stroke-opacity="0.45"/>
<line x1="530.62" y1="198.60" x2="530.62" y2="219.30" stroke="#000" stroke-width="1.05" stroke-opacity="1"/>
<line x1="530.62" y1="219.30" x2="530.62" y2="238.60" stroke="#000" stroke-width="1.05" stroke-opacity="1"/>
<line x1="530.62" y1="238.60" x2="530.62" y2="258.20" stroke="#000" stroke-width="1.05" stroke-opacity="1"/>
<line x1="530.62" y1="258.20" x2="530.62" y2="278.00" stroke="#000" stroke-width="1.05" stroke-opacity="1"/>
<line x1="530.62" y1="278.00" x2="530.62" y2="298.40" stroke="#000" stroke-width="1.05" stroke-opacity="1"/>
<line x1="530.62" y1="298.40" x2="530.62" y2="318.80" stroke="#000" stroke-width="1.05" stroke-opacity="1"/>
<line x1="530.62" y1="318.80" x2="530.62" y2="338.80" stroke="#000" stroke-width="1.05" stroke-opacity="1"/>
<line x1="530.62" y1="338.80" x2="530.62" y2="359.30" stroke="#000" stroke-width="1.05" stroke-opacity="1"/>
<line x1="560.93" y1="119.80" x2="621.54" y2="119.80" stroke="#000" stroke-width="1.0" stroke-opacity="1"/>
<line x1="560.93" y1="140.00" x2="621.54" y2="140.00" stroke="#000" stroke-width="1.8" stroke-opacity="1"/>
<line x1="560.93" y1="179.30" x2="621.54" y2="179.30" stroke="#000" stroke-width="1.0" stroke-opacity="1"/>
<line x1="560.93" y1="198.60" x2="621.54" y2="198.60" stroke="#000" stroke-width="1.8" stroke-opacity="1"/>
<line x1="560.93" y1="219.30" x2="621.54" y2="219.30" stroke="#000" stroke-width="1.0" stroke-opacity="1"/>
<line x1="560.93" y1="238.60" x2="621.54" y2="238.60" stroke="#000" stroke-width="1.0" stroke-opacity="1"/>
<line x1="560.93" y1="258.20" x2="621.54" y2="258.20" stroke="#000" stroke-width="1.8" stroke-opacity="1"/>
<line x1="560.93" y1="278.00" x2="621.54" y2="278.00" stroke="#000" stroke-width="1.0" stroke-opacity="1"/>
<line x1="560.93" y1="298.40" x2="621.54" y2="298.40" stroke="#000" stroke-width="1.0" stroke-opacity="1"/>
<line x1="560.93" y1="318.80" x2="621.54" y2="318.80" stroke="#000" stroke-width="1.8" stroke-opacity="1"/>
<line x1="560.93" y1="338.80" x2="621.54" y2="338.80" stroke="#000" stroke-width="1.0" stroke-opacity="1"/>
<line x1="591.24" y1="119.80" x2="591.24" y2="140.00" stroke="#000" stroke-width="1.05" stroke-opacity="0.45"/>
<line x1="591.24" y1="179.30" x2="591.24" y2="198.60" stroke="#000" stroke-width="1.05" stroke-opacity="1"/>
<line x1="591.24" y1="198.60" x2="591.24" y2="219.30" stroke="#000" stroke-width="1.05" stroke-opacity="1"/>
<line x1="591.24" y1="219.30" x2="591.24" y2="238.60" stroke="#000" stroke-width="1.05" stroke-opacity="1"/>
<line x1="591.24" y1="238.60" x2="591.24" y2="258.20" stroke="#000" stroke-width="1.05" stroke-opacity="1"/>
<line x1="591.24" y1="258.20" x2="591.24" y2="278.00" stroke="#000" stroke-width="1.05" stroke-opacity="1"/>
<line x1="591.24" y1="278.00" x2="591.24" y2="298.40" stroke="#000" stroke-width="1.05" stroke-opacity="1"/>
<line x1="591.24" y1="298.40" x2="591.24" y2="318.80" stroke="#000" stroke-width="1.05" stroke-opacity="1"/>
<line x1="591.24" y1="318.80" x2="591.24" y2="338.80" stroke="#000" stroke-width="1.05" stroke-opacity="1"/>
<line x1="621.54" y1="100.30" x2="682.16" y2="100.30" stroke="#000" stroke-width="1.0" stroke-opacity="1"/>
<line x1="621.54" y1="119.80" x2="682.16" y2="119.80" stroke="#000" stroke-width="1.0" stroke-opacity="1"/>
<line x1="621.54" y1="160.00" x2="682.16" y2="160.00" stroke="#000" stroke-width="1.0" stroke-opacity="1"/>
<line x1="621.54" y1="179.30" x2="682.16" y2="179.30" stroke="#000" stroke-width="1.0" stroke-opacity="1"/>
<line x1="621.54" y1="198.60" x2="682.16" y2="198.60" stroke="#000" stroke-width="1.8" stroke-opacity="1"/>
<line x1="621.54" y1="219.30" x2="682.16" y2="219.30" stroke="#000" stroke-width="1.0" stroke-opacity="1"/>
<line x1="621.54" y1="238.60" x2="682.16" y2="238.60" stroke="#000" stroke-width="1.0" stroke-opacity="1"/>
<line x1="621.54" y1="258.20" x2="682.16" y2="258.20" stroke="#000" stroke-width="1.8" stroke-opacity="1"/>
<line x1="621.54" y1="278.00" x2="682.16" y2="278.00" stroke="#000" stroke-width="1.0" stroke-opacity="1"/>
<line x1="621.54" y1="298.40" x2="682.16" y2="298.40" stroke="#000" stroke-width="1.0" stroke-opacity="1"/>
<line x1="621.54" y1="318.80" x2="682.16" y2="318.80" stroke="#000" stroke-width="1.8" stroke-opacity="1"/>
<line x1="651.85" y1="100.30" x2="651.85" y2="119.80" stroke="#000" stroke-width="1.05" stroke-opacity="0.45"/>
<line x1="651.85" y1="160.00" x2="651.85" y2="179.30" stroke="#000" stroke-width="1.05" stroke-opacity="1"/>
<line x1="651.85" y1="179.30" x2="651.85" y2="198.60" stroke="#000" stroke-width="1.05" stroke-opacity="1"/>
<line x1="651.85" y1="198.60" x2="651.85" y2="219.30" stroke="#000" stroke-width="1.05" stroke-opacity="1"/>
<line x1="651.85" y1="219.30" x2="651.85" y2="238.60" stroke="#000" stroke-width="1.05" stroke-opacity="1"/>
<line x1="651.85" y1="238.60" x2="651.85" y2="258.20" stroke="#000" stroke-width="1.05" stroke-opacity="1"/>
<line x1="651.85" y1="258.20" x2="651.85" y2="278.00" stroke="#000" stroke-width="1.05" stroke-opacity="1"/>
<line x1="651.85" y1="278.00" x2="651.85" y2="298.40" stroke="#000" stroke-width="1.05" stroke-opacity="1"/>
<line x1="651.85" y1="298.40" x2="651.85" y2="318.80" stroke="#000" stroke-width="1.05" stroke-opacity="1"/>
<line x1="682.16" y1="100.30" x2="742.78" y2="100.30" stroke="#000" stroke-width="1.0" stroke-opacity="1"/>
<line x1="682.16" y1="140.00" x2="742.78" y2="140.00" stroke="#000" stroke-width="1.8" stroke-opacity="1"/>
<line x1="682.16" y1="160.00" x2="742.78" y2="160.00" stroke="#000" stroke-width="1.0" stroke-opacity="1"/>
<line x1="682.16" y1="179.30" x2="742.78" y2="179.30" stroke="#000" stroke-width="1.0" stroke-opacity="1"/>
<line x1="682.16" y1="198.60" x2="742.78" y2="198.60" stroke="#000" stroke-width="1.8" stroke-opacity="1"/>
<line x1="682.16" y1="219.30" x2="742.78" y2="219.30" stroke="#000" stroke-width="1.0" stroke-opacity="1"/>
<line x1="682.16" y1="238.60" x2="742.78" y2="238.60" stroke="#000" stroke-width="1.0" stroke-opacity="1"/>
<line x1="682.16" y1="258.20" x2="742.78" y2="258.20" stroke="#000" stroke-width="1.8" stroke-opacity="1"/>
<line x1="682.16" y1="278.00" x2="742.78" y2="278.00" stroke="#000" stroke-width="1.0" stroke-opacity="1"/>
<line x1="682.16" y1="298.40" x2="742.78" y2="298.40" stroke="#000" stroke-width="1.0" stroke-opacity="1"/>
<line x1="712.47" y1="80.40" x2="712.47" y2="100.30" stroke="#000" stroke-width="1.05" stroke-opacity="0.45"/>
<line x1="712.47" y1="140.00" x2="712.47" y2="160.00" stroke="#000" stroke-width="1.05" stroke-opacity="1"/>
<line x1="712.47" y1="160.00" x2="712.47" y2="179.30" stroke="#000" stroke-width="1.05" stroke-opacity="1"/>
<line x1="712.47" y1="179.30" x2="712.47" y2="198.60" stroke="#000" stroke-width="1.05" stroke-opacity="1"/>
<line x1="712.47" y1="198.60" x2="712.47" y2="219.30" stroke="#000" stroke-width="1.05" stroke-opacity="1"/>
<line x1="712.47" y1="219.30" x2="712.47" y2="238.60" stroke="#000" stroke-width="1.05" stroke-opacity="1"/>
<line x1="712.47" y1="238.60" x2="712.47" y2="258.20" stroke="#000" stroke-width="1.05" stroke-opacity="1"/>
<line x1="712.47" y1="258.20" x2="712.47" y2="278.00" stroke="#000" stroke-width="1.05" stroke-opacity="1"/>
<line x1="712.47" y1="278.00" x2="712.47" y2="298.40" stroke="#000" stroke-width="1.05" stroke-opacity="1"/>
<line x1="742.78" y1="119.80" x2="803.39" y2="119.80" stroke="#000" stroke-width="1.0" stroke-opacity="1"/>
<line x1="742.78" y1="140.00" x2="803.39" y2="140.00" stroke="#000" stroke-width="1.8" stroke-opacity="1"/>
<line x1="742.78" y1="160.00" x2="803.39" y2="160.00" stroke="#000" stroke-width="1.0" stroke-opacity="1"/>
<line x1="742.78" y1="179.30" x2="803.39" y2="179.30" stroke="#000" stroke-width="1.0" stroke-opacity="1"/>
<line x1="742.78" y1="198.60" x2="803.39" y2="198.60" stroke="#000" stroke-width="1.8" stroke-opacity="1"/>
<line x1="742.78" y1="219.30" x2="803.39" y2="219.30" stroke="#000" stroke-width="1.0" stroke-opacity="1"/>
<line x1="742.78" y1="238.60" x2="803.39" y2="238.60" stroke="#000" stroke-width="1.0" stroke-opacity="1"/>
<line x1="742.78" y1="258.20" x2="803.39" y2="258.20" stroke="#000" stroke-width="1.8" stroke-opacity="1"/>
<line x1="742.78" y1="278.00" x2="803.39" y2="278.00" stroke="#000" stroke-width="1.0" stroke-opacity="1"/>
<line x1="773.08" y1="119.80" x2="773.08" y2="140.00" stroke="#000" stroke-width="1.05" stroke-opacity="1"/>
<line x1="773.08" y1="140.00" x2="773.08" y2="160.00" stroke="#000" stroke-width="1.05" stroke-opacity="1"/>
<line x1="773.08" y1="160.00" x2="773.08" y2="179.30" stroke="#000" stroke-width="1.05" stroke-opacity="1"/>
<line x1="773.08" y1="179.30" x2="773.08" y2="198.60" stroke="#000" stroke-width="1.05" stroke-opacity="1"/>
<line x1="773.08" y1="198.60" x2="773.08" y2="219.30" stroke="#000" stroke-width="1.05" stroke-opacity="1"/>
<line x1="773.08" y1="219.30" x2="773.08" y2="238.60" stroke="#000" stroke-width="1.05" stroke-opacity="1"/>
<line x1="773.08" y1="238.60" x2="773.08" y2="258.20" stroke="#000" stroke-width="1.05" stroke-opacity="1"/>
<line x1="773.08" y1="258.20" x2="773.08" y2="278.00" stroke="#000" stroke-width="1.05" stroke-opacity="1"/>
<line x1="803.39" y1="100.30" x2="864.01" y2="100.30" stroke="#000" stroke-width="1.0" stroke-opacity="1"/>
<line x1="803.39" y1="119.80" x2="864.01" y2="119.80" stroke="#000" stroke-width="1.0" stroke-opacity="1"/>
<line x1="803.39" y1="140.00" x2="864.01" y2="140.00" stroke="#000" stroke-width="1.8" stroke-opacity="1"/>
<line x1="803.39" y1="160.00" x2="864.01" y2="160.00" stroke="#000" stroke-width="1.0" stroke-opacity="1"/>
<line x1="803.39" y1="179.30" x2="864.01" y2="179.30" stroke="#000" stroke-width="1.0" stroke-opacity="1"/>
<line x1="803.39" y1="198.60" x2="864.01" y2="198.60" stroke="#000" stroke-width="1.8" stroke-opacity="1"/>
<line x1="803.39" y1="219.30" x2="864.01" y2="219.30" stroke="#000" stroke-width="1.0" stroke-opacity="1"/>
<line x1="803.39" y1="238.60" x2="864.01" y2="238.60" stroke="#000" stroke-width="1.0" stroke-opacity="1"/>
<line x1="803.39" y1="258.20" x2="864.01" y2="258.20" stroke="#000" stroke-width="1.8" stroke-opacity="1"/>
<line x1="833.70" y1="100.30" x2="833.70" y2="119.80" stroke="#000" stroke-width="1.05" stroke-opacity="1"/>
<line x1="833.70" y1="119.80" x2="833.70" y2="140.00" stroke="#000" stroke-width="1.05" stroke-opacity="1"/>
<line x1="833.70" y1="140.00" x2="833.70" y2="160.00" stroke="#000" stroke-width="1.05" stroke-opacity="1"/>
<line x1="833.70" y1="160.00" x2="833.70" y2="179.30" stroke="#000" stroke-width="1.05" stroke-opacity="1"/>
<line x1="833.70" y1="179.30" x2="833.70" y2="198.60" stroke="#000" stroke-width="1.05" stroke-opacity="1"/>
<line x1="833.70" y1="198.60" x2="833.70" y2="219.30" stroke="#000" stroke-width="1.05" stroke-opacity="1"/>
<line x1="833.70" y1="219.30" x2="833.70" y2="238.60" stroke="#000" stroke-width="1.05" stroke-opacity="1"/>
<line x1="833.70" y1="238.60" x2="833.70" y2="258.20" stroke="#000" stroke-width="1.05" stroke-opacity="1"/>
<line x1="76.00" y1="318.80" x2="136.62" y2="318.80" stroke="#000" stroke-width="1.8" stroke-opacity="1"/>
<line x1="439.70" y1="198.60" x2="500.31" y2="198.60" stroke="#000" stroke-width="1.8" stroke-opacity="1"/>
<line x1="500.31" y1="179.30" x2="560.93" y2="179.30" stroke="#000" stroke-width="1.0" stroke-opacity="1"/>
<line x1="651.85" y1="53.00" x2="651.85" y2="80.00" stroke="#000" stroke-width="1.0" stroke-opacity="0.9"/>
<line x1="833.70" y1="53.00" x2="833.70" y2="80.00" stroke="#000" stroke-width="1.0" stroke-opacity="0.8"/>
<line x1="0.00" y1="21.80" x2="865.00" y2="21.80" stroke="#000" stroke-width="2.2" stroke-opacity="1"/>
<line x1="0.00" y1="80.90" x2="76.00" y2="80.90" stroke="#000" stroke-width="2.0" stroke-opacity="1"/>
<line x1="76.00" y1="80.15" x2="865.00" y2="80.15" stroke="#000" stroke-width="1.0" stroke-opacity="1"/>
<line x1="76.00" y1="22.00" x2="76.00" y2="401.00" stroke="#000" stroke-width="2.0" stroke-opacity="1"/>
<rect x="0" y="0" width="865" height="2" />
<rect x="0" y="0" width="2" height="401" />
<rect x="863" y="0" width="2" height="401" />
<rect x="0" y="398.6" width="865" height="2.4" />
<line x1="108.00" y1="82.00" x2="108.00" y2="265.10" stroke="#000" stroke-width="1.8" stroke-opacity="1"/>
<path d="M104.20 264.60 L111.80 264.60 L108.00 271.40 Z"/>
<line x1="167.00" y1="82.00" x2="167.00" y2="244.70" stroke="#000" stroke-width="1.8" stroke-opacity="1"/>
<path d="M163.20 244.20 L170.80 244.20 L167.00 251.00 Z"/>
<line x1="227.90" y1="82.00" x2="227.90" y2="226.60" stroke="#000" stroke-width="1.8" stroke-opacity="1"/>
<path d="M224.10 226.10 L231.70 226.10 L227.90 232.90 Z"/>
<line x1="289.00" y1="82.00" x2="289.00" y2="208.50" stroke="#000" stroke-width="1.8" stroke-opacity="1"/>
<path d="M285.20 208.00 L292.80 208.00 L289.00 214.80 Z"/>
<line x1="350.00" y1="82.00" x2="350.00" y2="189.20" stroke="#000" stroke-width="1.8" stroke-opacity="1"/>
<path d="M346.20 188.70 L353.80 188.70 L350.00 195.50 Z"/>
<line x1="410.70" y1="82.00" x2="410.70" y2="168.20" stroke="#000" stroke-width="1.8" stroke-opacity="1"/>
<path d="M406.90 167.70 L414.50 167.70 L410.70 174.50 Z"/>
<line x1="471.40" y1="82.00" x2="471.40" y2="150.10" stroke="#000" stroke-width="1.8" stroke-opacity="1"/>
<path d="M467.60 149.60 L475.20 149.60 L471.40 156.40 Z"/>
<line x1="531.10" y1="82.00" x2="531.10" y2="130.30" stroke="#000" stroke-width="1.8" stroke-opacity="1"/>
<path d="M527.30 129.80 L534.90 129.80 L531.10 136.60 Z"/>
<line x1="591.40" y1="82.00" x2="591.40" y2="112.20" stroke="#000" stroke-width="1.8" stroke-opacity="1"/>
<path d="M587.60 111.70 L595.20 111.70 L591.40 118.50 Z"/>
<line x1="652.90" y1="82.00" x2="652.90" y2="93.60" stroke="#000" stroke-width="1.8" stroke-opacity="1"/>
<path d="M649.10 93.10 L656.70 93.10 L652.90 99.90 Z"/>
<line x1="773.00" y1="80.80" x2="773.00" y2="112.20" stroke="#000" stroke-width="1.8" stroke-opacity="1"/>
<path d="M769.20 111.70 L776.80 111.70 L773.00 118.50 Z"/>
<line x1="833.80" y1="80.80" x2="833.80" y2="93.10" stroke="#000" stroke-width="1.8" stroke-opacity="1"/>
<path d="M830.00 92.60 L837.60 92.60 L833.80 99.40 Z"/>
<line x1="106.90" y1="307.00" x2="106.90" y2="330.40" stroke="#000" stroke-width="1.8" stroke-opacity="1"/>
<path d="M103.10 307.50 L110.70 307.50 L106.90 300.70 Z"/>
<path d="M103.10 329.90 L110.70 329.90 L106.90 336.70 Z"/>
<line x1="166.90" y1="287.30" x2="166.90" y2="310.60" stroke="#000" stroke-width="1.8" stroke-opacity="1"/>
<path d="M163.10 287.80 L170.70 287.80 L166.90 281.00 Z"/>
<path d="M163.10 310.10 L170.70 310.10 L166.90 316.90 Z"/>
<line x1="227.80" y1="265.60" x2="227.80" y2="289.50" stroke="#000" stroke-width="1.8" stroke-opacity="1"/>
<path d="M224.00 266.10 L231.60 266.10 L227.80 259.30 Z"/>
<path d="M224.00 289.00 L231.60 289.00 L227.80 295.80 Z"/>
<line x1="288.90" y1="246.90" x2="288.90" y2="270.20" stroke="#000" stroke-width="1.8" stroke-opacity="1"/>
<path d="M285.10 247.40 L292.70 247.40 L288.90 240.60 Z"/>
<path d="M285.10 269.70 L292.70 269.70 L288.90 276.50 Z"/>
<line x1="349.60" y1="227.60" x2="349.60" y2="249.70" stroke="#000" stroke-width="1.8" stroke-opacity="1"/>
<path d="M345.80 228.10 L353.40 228.10 L349.60 221.30 Z"/>
<path d="M345.80 249.20 L353.40 249.20 L349.60 256.00 Z"/>
<line x1="408.90" y1="207.80" x2="408.90" y2="231.70" stroke="#000" stroke-width="1.8" stroke-opacity="1"/>
<path d="M405.10 208.30 L412.70 208.30 L408.90 201.50 Z"/>
<path d="M405.10 231.20 L412.70 231.20 L408.90 238.00 Z"/>
<line x1="470.90" y1="187.30" x2="470.90" y2="210.10" stroke="#000" stroke-width="1.8" stroke-opacity="1"/>
<path d="M467.10 187.80 L474.70 187.80 L470.90 181.00 Z"/>
<path d="M467.10 209.60 L474.70 209.60 L470.90 216.40 Z"/>
<line x1="531.10" y1="166.70" x2="531.10" y2="189.10" stroke="#000" stroke-width="1.8" stroke-opacity="1"/>
<path d="M527.30 167.20 L534.90 167.20 L531.10 160.40 Z"/>
<path d="M527.30 188.60 L534.90 188.60 L531.10 195.40 Z"/>
<line x1="590.80" y1="146.80" x2="590.80" y2="169.00" stroke="#000" stroke-width="1.8" stroke-opacity="1"/>
<path d="M587.00 147.30 L594.60 147.30 L590.80 140.50 Z"/>
<path d="M587.00 168.50 L594.60 168.50 L590.80 175.30 Z"/>
<line x1="653.30" y1="127.90" x2="653.30" y2="151.60" stroke="#000" stroke-width="1.8" stroke-opacity="1"/>
<path d="M649.50 128.40 L657.10 128.40 L653.30 121.60 Z"/>
<path d="M649.50 151.10 L657.10 151.10 L653.30 157.90 Z"/>
<line x1="712.90" y1="107.10" x2="712.90" y2="130.30" stroke="#000" stroke-width="1.8" stroke-opacity="1"/>
<path d="M709.10 107.60 L716.70 107.60 L712.90 100.80 Z"/>
<path d="M709.10 129.80 L716.70 129.80 L712.90 136.60 Z"/>
<line x1="471.00" y1="387.80" x2="471.00" y2="399.50" stroke="#000" stroke-width="1.8" stroke-opacity="1"/>
<path d="M467.20 388.30 L474.80 388.30 L471.00 381.50 Z"/>
<line x1="530.10" y1="367.20" x2="530.10" y2="399.50" stroke="#000" stroke-width="1.8" stroke-opacity="1"/>
<path d="M526.30 367.70 L533.90 367.70 L530.10 360.90 Z"/>
<line x1="591.80" y1="346.00" x2="591.80" y2="399.50" stroke="#000" stroke-width="1.8" stroke-opacity="1"/>
<path d="M588.00 346.50 L595.60 346.50 L591.80 339.70 Z"/>
<line x1="653.20" y1="327.90" x2="653.20" y2="399.50" stroke="#000" stroke-width="1.8" stroke-opacity="1"/>
<path d="M649.40 328.40 L657.00 328.40 L653.20 321.60 Z"/>
<line x1="714.10" y1="307.90" x2="714.10" y2="399.50" stroke="#000" stroke-width="1.8" stroke-opacity="1"/>
<path d="M710.30 308.40 L717.90 308.40 L714.10 301.60 Z"/>
<line x1="773.00" y1="287.10" x2="773.00" y2="399.50" stroke="#000" stroke-width="1.8" stroke-opacity="1"/>
<path d="M769.20 287.60 L776.80 287.60 L773.00 280.80 Z"/>
<line x1="834.90" y1="268.90" x2="834.90" y2="399.50" stroke="#000" stroke-width="1.8" stroke-opacity="1"/>
<path d="M831.10 269.40 L838.70 269.40 L834.90 262.60 Z"/>
<text x="292.5" y="15.6" font-size="12.4" font-weight="bold" textLength="68.1" lengthAdjust="spacingAndGlyphs">Acceptance</text>
<text x="364.9" y="15.6" font-size="12.4" font-weight="bold" textLength="43.0" lengthAdjust="spacingAndGlyphs">Quality</text>
<text x="413.3" y="15.6" font-size="12.4" font-weight="bold" textLength="35.1" lengthAdjust="spacingAndGlyphs">Levels</text>
<text x="453.1" y="15.6" font-size="12.4" font-weight="bold" textLength="45.5" lengthAdjust="spacingAndGlyphs">(Normal</text>
<text x="502.9" y="15.6" font-size="12.4" font-weight="bold" textLength="71.0" lengthAdjust="spacingAndGlyphs">Inspection)</text>
<line x1="291.60" y1="3.00" x2="291.60" y2="19.40" stroke="#000" stroke-width="0.9" stroke-opacity="0.85"/>
<text transform="translate(106.31,41.60) scale(1.09,1)" text-anchor="middle" font-size="12.0">0.065</text>
<text transform="translate(91.45,71.65) scale(1.06,1)" text-anchor="middle" font-size="12.1">Ac</text>
<text transform="translate(121.76,71.65) scale(1.06,1)" text-anchor="middle" font-size="12.1">Re</text>
<text transform="translate(166.92,41.60) scale(1.09,1)" text-anchor="middle" font-size="12.0">0.1</text>
<text transform="translate(152.07,71.65) scale(1.06,1)" text-anchor="middle" font-size="12.1">Ac</text>
<text transform="translate(182.38,71.65) scale(1.06,1)" text-anchor="middle" font-size="12.1">Re</text>
<text transform="translate(227.54,41.60) scale(1.09,1)" text-anchor="middle" font-size="12.0">0.15</text>
<text transform="translate(212.69,71.65) scale(1.06,1)" text-anchor="middle" font-size="12.1">Ac</text>
<text transform="translate(242.99,71.65) scale(1.06,1)" text-anchor="middle" font-size="12.1">Re</text>
<text transform="translate(288.16,41.60) scale(1.09,1)" text-anchor="middle" font-size="12.0">0.25</text>
<text transform="translate(273.30,71.65) scale(1.06,1)" text-anchor="middle" font-size="12.1">Ac</text>
<text transform="translate(303.61,71.65) scale(1.06,1)" text-anchor="middle" font-size="12.1">Re</text>
<text transform="translate(348.77,41.60) scale(1.09,1)" text-anchor="middle" font-size="12.0">0.4</text>
<text transform="translate(333.92,71.65) scale(1.06,1)" text-anchor="middle" font-size="12.1">Ac</text>
<text transform="translate(364.23,71.65) scale(1.06,1)" text-anchor="middle" font-size="12.1">Re</text>
<text transform="translate(409.39,41.60) scale(1.09,1)" text-anchor="middle" font-size="12.0">0.65</text>
<text transform="translate(394.53,71.65) scale(1.06,1)" text-anchor="middle" font-size="12.1">Ac</text>
<text transform="translate(424.84,71.65) scale(1.06,1)" text-anchor="middle" font-size="12.1">Re</text>
<text transform="translate(470.00,41.60) scale(1.09,1)" text-anchor="middle" font-size="12.0">1</text>
<text transform="translate(455.15,71.65) scale(1.06,1)" text-anchor="middle" font-size="12.1">Ac</text>
<text transform="translate(485.46,71.65) scale(1.06,1)" text-anchor="middle" font-size="12.1">Re</text>
<text transform="translate(530.62,41.60) scale(1.09,1)" text-anchor="middle" font-size="12.0">1.5</text>
<text transform="translate(515.77,71.65) scale(1.06,1)" text-anchor="middle" font-size="12.1">Ac</text>
<text transform="translate(546.07,71.65) scale(1.06,1)" text-anchor="middle" font-size="12.1">Re</text>
<text transform="translate(591.24,41.60) scale(1.09,1)" text-anchor="middle" font-size="12.0">2.5</text>
<text transform="translate(576.38,71.65) scale(1.06,1)" text-anchor="middle" font-size="12.1">Ac</text>
<text transform="translate(606.69,71.65) scale(1.06,1)" text-anchor="middle" font-size="12.1">Re</text>
<text transform="translate(651.85,41.60) scale(1.09,1)" text-anchor="middle" font-size="12.0">4</text>
<text transform="translate(637.00,71.65) scale(1.06,1)" text-anchor="middle" font-size="12.1">Ac</text>
<text transform="translate(667.31,71.65) scale(1.06,1)" text-anchor="middle" font-size="12.1">Re</text>
<text transform="translate(712.47,41.60) scale(1.09,1)" text-anchor="middle" font-size="12.0">6.5</text>
<text transform="translate(697.61,71.65) scale(1.06,1)" text-anchor="middle" font-size="12.1">Ac</text>
<text transform="translate(727.92,71.65) scale(1.06,1)" text-anchor="middle" font-size="12.1">Re</text>
<text transform="translate(773.08,41.60) scale(1.09,1)" text-anchor="middle" font-size="12.0">10</text>
<text transform="translate(758.23,71.65) scale(1.06,1)" text-anchor="middle" font-size="12.1">Ac</text>
<text transform="translate(788.54,71.65) scale(1.06,1)" text-anchor="middle" font-size="12.1">Re</text>
<text transform="translate(833.70,41.60) scale(1.09,1)" text-anchor="middle" font-size="12.0">15</text>
<text transform="translate(818.85,71.65) scale(1.06,1)" text-anchor="middle" font-size="12.1">Ac</text>
<text transform="translate(849.15,71.65) scale(1.06,1)" text-anchor="middle" font-size="12.1">Re</text>
<text transform="translate(20.20,95.78) scale(0.96,1)" text-anchor="middle" font-size="12.0">A</text>
<text transform="translate(57.60,95.78) scale(1.1,1)" text-anchor="middle" font-size="12.0">2</text>
<text transform="translate(20.20,114.98) scale(0.96,1)" text-anchor="middle" font-size="12.0">B</text>
<text transform="translate(57.60,114.98) scale(1.1,1)" text-anchor="middle" font-size="12.0">3</text>
<text transform="translate(20.20,134.18) scale(0.96,1)" text-anchor="middle" font-size="12.0">C</text>
<text transform="translate(57.60,134.18) scale(1.1,1)" text-anchor="middle" font-size="12.0">5</text>
<text transform="translate(20.20,154.28) scale(0.96,1)" text-anchor="middle" font-size="12.0">D</text>
<text transform="translate(57.60,154.28) scale(1.1,1)" text-anchor="middle" font-size="12.0">8</text>
<text transform="translate(20.20,174.83) scale(0.96,1)" text-anchor="middle" font-size="12.0">E</text>
<text transform="translate(57.60,174.83) scale(1.1,1)" text-anchor="middle" font-size="12.0">13</text>
<text transform="translate(20.20,193.83) scale(0.96,1)" text-anchor="middle" font-size="12.0">F</text>
<text transform="translate(57.60,193.83) scale(1.1,1)" text-anchor="middle" font-size="12.0">20</text>
<text transform="translate(20.20,213.43) scale(0.96,1)" text-anchor="middle" font-size="12.0">G</text>
<text transform="translate(57.60,213.43) scale(1.1,1)" text-anchor="middle" font-size="12.0">32</text>
<text transform="translate(20.20,233.13) scale(0.96,1)" text-anchor="middle" font-size="12.0">H</text>
<text transform="translate(57.60,233.13) scale(1.1,1)" text-anchor="middle" font-size="12.0">50</text>
<text transform="translate(20.20,252.73) scale(0.96,1)" text-anchor="middle" font-size="12.0">J</text>
<text transform="translate(57.60,252.73) scale(1.1,1)" text-anchor="middle" font-size="12.0">80</text>
<text transform="translate(20.20,272.83) scale(0.96,1)" text-anchor="middle" font-size="12.0">K</text>
<text transform="translate(57.60,272.83) scale(1.1,1)" text-anchor="middle" font-size="12.0">125</text>
<text transform="translate(20.20,292.48) scale(0.96,1)" text-anchor="middle" font-size="12.0">L</text>
<text transform="translate(57.60,292.48) scale(1.1,1)" text-anchor="middle" font-size="12.0">200</text>
<text transform="translate(20.20,313.73) scale(0.96,1)" text-anchor="middle" font-size="12.0">M</text>
<text transform="translate(57.60,313.73) scale(1.1,1)" text-anchor="middle" font-size="12.0">315</text>
<text transform="translate(20.20,333.63) scale(0.96,1)" text-anchor="middle" font-size="12.0">N</text>
<text transform="translate(57.60,333.63) scale(1.1,1)" text-anchor="middle" font-size="12.0">500</text>
<text transform="translate(20.20,353.73) scale(0.96,1)" text-anchor="middle" font-size="12.0">P</text>
<text transform="translate(57.60,353.73) scale(1.1,1)" text-anchor="middle" font-size="12.0">800</text>
<text transform="translate(20.20,374.63) scale(0.96,1)" text-anchor="middle" font-size="12.0">Q</text>
<text transform="translate(57.60,374.63) scale(1.1,1)" text-anchor="middle" font-size="12.0">1250</text>
<text transform="translate(20.20,394.63) scale(0.96,1)" text-anchor="middle" font-size="12.0">R</text>
<text transform="translate(57.60,394.63) scale(1.1,1)" text-anchor="middle" font-size="12.0">2000</text>
<text transform="translate(91.65,292.48) scale(1.1,1)" text-anchor="middle" font-size="12.0">0</text>
<text transform="translate(121.96,292.48) scale(1.1,1)" text-anchor="middle" font-size="12.0">1</text>
<text transform="translate(91.65,353.73) scale(1.1,1)" text-anchor="middle" font-size="12.0">1</text>
<text transform="translate(121.96,353.73) scale(1.1,1)" text-anchor="middle" font-size="12.0">2</text>
<text transform="translate(91.65,374.63) scale(1.1,1)" text-anchor="middle" font-size="12.0">2</text>
<text transform="translate(121.96,374.63) scale(1.1,1)" text-anchor="middle" font-size="12.0">3</text>
<text transform="translate(91.65,394.63) scale(1.1,1)" text-anchor="middle" font-size="12.0">3</text>
<text transform="translate(121.96,394.63) scale(1.1,1)" text-anchor="middle" font-size="12.0">4</text>
<text transform="translate(152.27,272.83) scale(1.1,1)" text-anchor="middle" font-size="12.0">0</text>
<text transform="translate(182.58,272.83) scale(1.1,1)" text-anchor="middle" font-size="12.0">1</text>
<text transform="translate(152.27,333.63) scale(1.1,1)" text-anchor="middle" font-size="12.0">1</text>
<text transform="translate(182.58,333.63) scale(1.1,1)" text-anchor="middle" font-size="12.0">2</text>
<text transform="translate(152.27,353.73) scale(1.1,1)" text-anchor="middle" font-size="12.0">2</text>
<text transform="translate(182.58,353.73) scale(1.1,1)" text-anchor="middle" font-size="12.0">3</text>
<text transform="translate(152.27,374.63) scale(1.1,1)" text-anchor="middle" font-size="12.0">3</text>
<text transform="translate(182.58,374.63) scale(1.1,1)" text-anchor="middle" font-size="12.0">4</text>
<text transform="translate(152.27,394.63) scale(1.1,1)" text-anchor="middle" font-size="12.0">5</text>
<text transform="translate(182.58,394.63) scale(1.1,1)" text-anchor="middle" font-size="12.0">6</text>
<text transform="translate(212.89,252.73) scale(1.1,1)" text-anchor="middle" font-size="12.0">0</text>
<text transform="translate(243.19,252.73) scale(1.1,1)" text-anchor="middle" font-size="12.0">1</text>
<text transform="translate(212.89,313.73) scale(1.1,1)" text-anchor="middle" font-size="12.0">1</text>
<text transform="translate(243.19,313.73) scale(1.1,1)" text-anchor="middle" font-size="12.0">2</text>
<text transform="translate(212.89,333.63) scale(1.1,1)" text-anchor="middle" font-size="12.0">2</text>
<text transform="translate(243.19,333.63) scale(1.1,1)" text-anchor="middle" font-size="12.0">3</text>
<text transform="translate(212.89,353.73) scale(1.1,1)" text-anchor="middle" font-size="12.0">3</text>
<text transform="translate(243.19,353.73) scale(1.1,1)" text-anchor="middle" font-size="12.0">4</text>
<text transform="translate(212.89,374.63) scale(1.1,1)" text-anchor="middle" font-size="12.0">5</text>
<text transform="translate(243.19,374.63) scale(1.1,1)" text-anchor="middle" font-size="12.0">6</text>
<text transform="translate(212.89,394.63) scale(1.1,1)" text-anchor="middle" font-size="12.0">7</text>
<text transform="translate(243.19,394.63) scale(1.1,1)" text-anchor="middle" font-size="12.0">8</text>
<text transform="translate(273.50,233.13) scale(1.1,1)" text-anchor="middle" font-size="12.0">0</text>
<text transform="translate(303.81,233.13) scale(1.1,1)" text-anchor="middle" font-size="12.0">1</text>
<text transform="translate(273.50,292.48) scale(1.1,1)" text-anchor="middle" font-size="12.0">1</text>
<text transform="translate(303.81,292.48) scale(1.1,1)" text-anchor="middle" font-size="12.0">2</text>
<text transform="translate(273.50,313.73) scale(1.1,1)" text-anchor="middle" font-size="12.0">2</text>
<text transform="translate(303.81,313.73) scale(1.1,1)" text-anchor="middle" font-size="12.0">3</text>
<text transform="translate(273.50,333.63) scale(1.1,1)" text-anchor="middle" font-size="12.0">3</text>
<text transform="translate(303.81,333.63) scale(1.1,1)" text-anchor="middle" font-size="12.0">4</text>
<text transform="translate(273.50,353.73) scale(1.1,1)" text-anchor="middle" font-size="12.0">5</text>
<text transform="translate(303.81,353.73) scale(1.1,1)" text-anchor="middle" font-size="12.0">6</text>
<text transform="translate(273.50,374.63) scale(1.1,1)" text-anchor="middle" font-size="12.0">7</text>
<text transform="translate(303.81,374.63) scale(1.1,1)" text-anchor="middle" font-size="12.0">8</text>
<text transform="translate(273.50,394.63) scale(1.1,1)" text-anchor="middle" font-size="12.0">10</text>
<text transform="translate(303.81,394.63) scale(1.1,1)" text-anchor="middle" font-size="12.0">11</text>
<text transform="translate(334.12,213.43) scale(1.1,1)" text-anchor="middle" font-size="12.0">0</text>
<text transform="translate(364.43,213.43) scale(1.1,1)" text-anchor="middle" font-size="12.0">1</text>
<text transform="translate(334.12,272.83) scale(1.1,1)" text-anchor="middle" font-size="12.0">1</text>
<text transform="translate(364.43,272.83) scale(1.1,1)" text-anchor="middle" font-size="12.0">2</text>
<text transform="translate(334.12,292.48) scale(1.1,1)" text-anchor="middle" font-size="12.0">2</text>
<text transform="translate(364.43,292.48) scale(1.1,1)" text-anchor="middle" font-size="12.0">3</text>
<text transform="translate(334.12,313.73) scale(1.1,1)" text-anchor="middle" font-size="12.0">3</text>
<text transform="translate(364.43,313.73) scale(1.1,1)" text-anchor="middle" font-size="12.0">4</text>
<text transform="translate(334.12,333.63) scale(1.1,1)" text-anchor="middle" font-size="12.0">5</text>
<text transform="translate(364.43,333.63) scale(1.1,1)" text-anchor="middle" font-size="12.0">6</text>
<text transform="translate(334.12,353.73) scale(1.1,1)" text-anchor="middle" font-size="12.0">7</text>
<text transform="translate(364.43,353.73) scale(1.1,1)" text-anchor="middle" font-size="12.0">8</text>
<text transform="translate(334.12,374.63) scale(1.1,1)" text-anchor="middle" font-size="12.0">10</text>
<text transform="translate(364.43,374.63) scale(1.1,1)" text-anchor="middle" font-size="12.0">11</text>
<text transform="translate(334.12,394.63) scale(1.1,1)" text-anchor="middle" font-size="12.0">14</text>
<text transform="translate(364.43,394.63) scale(1.1,1)" text-anchor="middle" font-size="12.0">15</text>
<text transform="translate(394.73,193.83) scale(1.1,1)" text-anchor="middle" font-size="12.0">0</text>
<text transform="translate(425.04,193.83) scale(1.1,1)" text-anchor="middle" font-size="12.0">1</text>
<text transform="translate(394.73,252.73) scale(1.1,1)" text-anchor="middle" font-size="12.0">1</text>
<text transform="translate(425.04,252.73) scale(1.1,1)" text-anchor="middle" font-size="12.0">2</text>
<text transform="translate(394.73,272.83) scale(1.1,1)" text-anchor="middle" font-size="12.0">2</text>
<text transform="translate(425.04,272.83) scale(1.1,1)" text-anchor="middle" font-size="12.0">3</text>
<text transform="translate(394.73,292.48) scale(1.1,1)" text-anchor="middle" font-size="12.0">3</text>
<text transform="translate(425.04,292.48) scale(1.1,1)" text-anchor="middle" font-size="12.0">4</text>
<text transform="translate(394.73,313.73) scale(1.1,1)" text-anchor="middle" font-size="12.0">5</text>
<text transform="translate(425.04,313.73) scale(1.1,1)" text-anchor="middle" font-size="12.0">6</text>
<text transform="translate(394.73,333.63) scale(1.1,1)" text-anchor="middle" font-size="12.0">7</text>
<text transform="translate(425.04,333.63) scale(1.1,1)" text-anchor="middle" font-size="12.0">8</text>
<text transform="translate(394.73,353.73) scale(1.1,1)" text-anchor="middle" font-size="12.0">10</text>
<text transform="translate(425.04,353.73) scale(1.1,1)" text-anchor="middle" font-size="12.0">11</text>
<text transform="translate(394.73,374.63) scale(1.1,1)" text-anchor="middle" font-size="12.0">14</text>
<text transform="translate(425.04,374.63) scale(1.1,1)" text-anchor="middle" font-size="12.0">15</text>
<text transform="translate(394.73,394.63) scale(1.1,1)" text-anchor="middle" font-size="12.0">21</text>
<text transform="translate(425.04,394.63) scale(1.1,1)" text-anchor="middle" font-size="12.0">22</text>
<text transform="translate(455.35,174.83) scale(1.1,1)" text-anchor="middle" font-size="12.0">0</text>
<text transform="translate(485.66,174.83) scale(1.1,1)" text-anchor="middle" font-size="12.0">1</text>
<text transform="translate(455.35,233.13) scale(1.1,1)" text-anchor="middle" font-size="12.0">1</text>
<text transform="translate(485.66,233.13) scale(1.1,1)" text-anchor="middle" font-size="12.0">2</text>
<text transform="translate(455.35,252.73) scale(1.1,1)" text-anchor="middle" font-size="12.0">2</text>
<text transform="translate(485.66,252.73) scale(1.1,1)" text-anchor="middle" font-size="12.0">3</text>
<text transform="translate(455.35,272.83) scale(1.1,1)" text-anchor="middle" font-size="12.0">3</text>
<text transform="translate(485.66,272.83) scale(1.1,1)" text-anchor="middle" font-size="12.0">4</text>
<text transform="translate(455.35,292.48) scale(1.1,1)" text-anchor="middle" font-size="12.0">5</text>
<text transform="translate(485.66,292.48) scale(1.1,1)" text-anchor="middle" font-size="12.0">6</text>
<text transform="translate(455.35,313.73) scale(1.1,1)" text-anchor="middle" font-size="12.0">7</text>
<text transform="translate(485.66,313.73) scale(1.1,1)" text-anchor="middle" font-size="12.0">8</text>
<text transform="translate(455.35,333.63) scale(1.1,1)" text-anchor="middle" font-size="12.0">10</text>
<text transform="translate(485.66,333.63) scale(1.1,1)" text-anchor="middle" font-size="12.0">11</text>
<text transform="translate(455.35,353.73) scale(1.1,1)" text-anchor="middle" font-size="12.0">14</text>
<text transform="translate(485.66,353.73) scale(1.1,1)" text-anchor="middle" font-size="12.0">15</text>
<text transform="translate(455.35,374.63) scale(1.1,1)" text-anchor="middle" font-size="12.0">21</text>
<text transform="translate(485.66,374.63) scale(1.1,1)" text-anchor="middle" font-size="12.0">22</text>
<text transform="translate(515.97,154.28) scale(1.1,1)" text-anchor="middle" font-size="12.0">0</text>
<text transform="translate(546.27,154.28) scale(1.1,1)" text-anchor="middle" font-size="12.0">1</text>
<text transform="translate(515.97,213.43) scale(1.1,1)" text-anchor="middle" font-size="12.0">1</text>
<text transform="translate(546.27,213.43) scale(1.1,1)" text-anchor="middle" font-size="12.0">2</text>
<text transform="translate(515.97,233.13) scale(1.1,1)" text-anchor="middle" font-size="12.0">2</text>
<text transform="translate(546.27,233.13) scale(1.1,1)" text-anchor="middle" font-size="12.0">3</text>
<text transform="translate(515.97,252.73) scale(1.1,1)" text-anchor="middle" font-size="12.0">3</text>
<text transform="translate(546.27,252.73) scale(1.1,1)" text-anchor="middle" font-size="12.0">4</text>
<text transform="translate(515.97,272.83) scale(1.1,1)" text-anchor="middle" font-size="12.0">5</text>
<text transform="translate(546.27,272.83) scale(1.1,1)" text-anchor="middle" font-size="12.0">6</text>
<text transform="translate(515.97,292.48) scale(1.1,1)" text-anchor="middle" font-size="12.0">7</text>
<text transform="translate(546.27,292.48) scale(1.1,1)" text-anchor="middle" font-size="12.0">8</text>
<text transform="translate(515.97,313.73) scale(1.1,1)" text-anchor="middle" font-size="12.0">10</text>
<text transform="translate(546.27,313.73) scale(1.1,1)" text-anchor="middle" font-size="12.0">11</text>
<text transform="translate(515.97,333.63) scale(1.1,1)" text-anchor="middle" font-size="12.0">14</text>
<text transform="translate(546.27,333.63) scale(1.1,1)" text-anchor="middle" font-size="12.0">15</text>
<text transform="translate(515.97,353.73) scale(1.1,1)" text-anchor="middle" font-size="12.0">21</text>
<text transform="translate(546.27,353.73) scale(1.1,1)" text-anchor="middle" font-size="12.0">22</text>
<text transform="translate(576.58,134.18) scale(1.1,1)" text-anchor="middle" font-size="12.0">0</text>
<text transform="translate(606.89,134.18) scale(1.1,1)" text-anchor="middle" font-size="12.0">1</text>
<text transform="translate(576.58,193.83) scale(1.1,1)" text-anchor="middle" font-size="12.0">1</text>
<text transform="translate(606.89,193.83) scale(1.1,1)" text-anchor="middle" font-size="12.0">2</text>
<text transform="translate(576.58,213.43) scale(1.1,1)" text-anchor="middle" font-size="12.0">2</text>
<text transform="translate(606.89,213.43) scale(1.1,1)" text-anchor="middle" font-size="12.0">3</text>
<text transform="translate(576.58,233.13) scale(1.1,1)" text-anchor="middle" font-size="12.0">3</text>
<text transform="translate(606.89,233.13) scale(1.1,1)" text-anchor="middle" font-size="12.0">4</text>
<text transform="translate(576.58,252.73) scale(1.1,1)" text-anchor="middle" font-size="12.0">5</text>
<text transform="translate(606.89,252.73) scale(1.1,1)" text-anchor="middle" font-size="12.0">6</text>
<text transform="translate(576.58,272.83) scale(1.1,1)" text-anchor="middle" font-size="12.0">7</text>
<text transform="translate(606.89,272.83) scale(1.1,1)" text-anchor="middle" font-size="12.0">8</text>
<text transform="translate(576.58,292.48) scale(1.1,1)" text-anchor="middle" font-size="12.0">10</text>
<text transform="translate(606.89,292.48) scale(1.1,1)" text-anchor="middle" font-size="12.0">11</text>
<text transform="translate(576.58,313.73) scale(1.1,1)" text-anchor="middle" font-size="12.0">14</text>
<text transform="translate(606.89,313.73) scale(1.1,1)" text-anchor="middle" font-size="12.0">15</text>
<text transform="translate(576.58,333.63) scale(1.1,1)" text-anchor="middle" font-size="12.0">21</text>
<text transform="translate(606.89,333.63) scale(1.1,1)" text-anchor="middle" font-size="12.0">22</text>
<text transform="translate(637.20,114.98) scale(1.1,1)" text-anchor="middle" font-size="12.0">0</text>
<text transform="translate(667.51,114.98) scale(1.1,1)" text-anchor="middle" font-size="12.0">1</text>
<text transform="translate(637.20,174.83) scale(1.1,1)" text-anchor="middle" font-size="12.0">1</text>
<text transform="translate(667.51,174.83) scale(1.1,1)" text-anchor="middle" font-size="12.0">2</text>
<text transform="translate(637.20,193.83) scale(1.1,1)" text-anchor="middle" font-size="12.0">2</text>
<text transform="translate(667.51,193.83) scale(1.1,1)" text-anchor="middle" font-size="12.0">3</text>
<text transform="translate(637.20,213.43) scale(1.1,1)" text-anchor="middle" font-size="12.0">3</text>
<text transform="translate(667.51,213.43) scale(1.1,1)" text-anchor="middle" font-size="12.0">4</text>
<text transform="translate(637.20,233.13) scale(1.1,1)" text-anchor="middle" font-size="12.0">5</text>
<text transform="translate(667.51,233.13) scale(1.1,1)" text-anchor="middle" font-size="12.0">6</text>
<text transform="translate(637.20,252.73) scale(1.1,1)" text-anchor="middle" font-size="12.0">7</text>
<text transform="translate(667.51,252.73) scale(1.1,1)" text-anchor="middle" font-size="12.0">8</text>
<text transform="translate(637.20,272.83) scale(1.1,1)" text-anchor="middle" font-size="12.0">10</text>
<text transform="translate(667.51,272.83) scale(1.1,1)" text-anchor="middle" font-size="12.0">11</text>
<text transform="translate(637.20,292.48) scale(1.1,1)" text-anchor="middle" font-size="12.0">14</text>
<text transform="translate(667.51,292.48) scale(1.1,1)" text-anchor="middle" font-size="12.0">15</text>
<text transform="translate(637.20,313.73) scale(1.1,1)" text-anchor="middle" font-size="12.0">21</text>
<text transform="translate(667.51,313.73) scale(1.1,1)" text-anchor="middle" font-size="12.0">22</text>
<text transform="translate(697.81,95.78) scale(1.1,1)" text-anchor="middle" font-size="12.0">0</text>
<text transform="translate(728.12,95.78) scale(1.1,1)" text-anchor="middle" font-size="12.0">1</text>
<text transform="translate(697.81,154.28) scale(1.1,1)" text-anchor="middle" font-size="12.0">1</text>
<text transform="translate(728.12,154.28) scale(1.1,1)" text-anchor="middle" font-size="12.0">2</text>
<text transform="translate(697.81,174.83) scale(1.1,1)" text-anchor="middle" font-size="12.0">2</text>
<text transform="translate(728.12,174.83) scale(1.1,1)" text-anchor="middle" font-size="12.0">3</text>
<text transform="translate(697.81,193.83) scale(1.1,1)" text-anchor="middle" font-size="12.0">3</text>
<text transform="translate(728.12,193.83) scale(1.1,1)" text-anchor="middle" font-size="12.0">4</text>
<text transform="translate(697.81,213.43) scale(1.1,1)" text-anchor="middle" font-size="12.0">5</text>
<text transform="translate(728.12,213.43) scale(1.1,1)" text-anchor="middle" font-size="12.0">6</text>
<text transform="translate(697.81,233.13) scale(1.1,1)" text-anchor="middle" font-size="12.0">7</text>
<text transform="translate(728.12,233.13) scale(1.1,1)" text-anchor="middle" font-size="12.0">8</text>
<text transform="translate(697.81,252.73) scale(1.1,1)" text-anchor="middle" font-size="12.0">10</text>
<text transform="translate(728.12,252.73) scale(1.1,1)" text-anchor="middle" font-size="12.0">11</text>
<text transform="translate(697.81,272.83) scale(1.1,1)" text-anchor="middle" font-size="12.0">14</text>
<text transform="translate(728.12,272.83) scale(1.1,1)" text-anchor="middle" font-size="12.0">15</text>
<text transform="translate(697.81,292.48) scale(1.1,1)" text-anchor="middle" font-size="12.0">21</text>
<text transform="translate(728.12,292.48) scale(1.1,1)" text-anchor="middle" font-size="12.0">22</text>
<text transform="translate(758.43,134.18) scale(1.1,1)" text-anchor="middle" font-size="12.0">1</text>
<text transform="translate(788.74,134.18) scale(1.1,1)" text-anchor="middle" font-size="12.0">2</text>
<text transform="translate(758.43,154.28) scale(1.1,1)" text-anchor="middle" font-size="12.0">2</text>
<text transform="translate(788.74,154.28) scale(1.1,1)" text-anchor="middle" font-size="12.0">3</text>
<text transform="translate(758.43,174.83) scale(1.1,1)" text-anchor="middle" font-size="12.0">3</text>
<text transform="translate(788.74,174.83) scale(1.1,1)" text-anchor="middle" font-size="12.0">4</text>
<text transform="translate(758.43,193.83) scale(1.1,1)" text-anchor="middle" font-size="12.0">5</text>
<text transform="translate(788.74,193.83) scale(1.1,1)" text-anchor="middle" font-size="12.0">6</text>
<text transform="translate(758.43,213.43) scale(1.1,1)" text-anchor="middle" font-size="12.0">7</text>
<text transform="translate(788.74,213.43) scale(1.1,1)" text-anchor="middle" font-size="12.0">8</text>
<text transform="translate(758.43,233.13) scale(1.1,1)" text-anchor="middle" font-size="12.0">10</text>
<text transform="translate(788.74,233.13) scale(1.1,1)" text-anchor="middle" font-size="12.0">11</text>
<text transform="translate(758.43,252.73) scale(1.1,1)" text-anchor="middle" font-size="12.0">14</text>
<text transform="translate(788.74,252.73) scale(1.1,1)" text-anchor="middle" font-size="12.0">15</text>
<text transform="translate(758.43,272.83) scale(1.1,1)" text-anchor="middle" font-size="12.0">21</text>
<text transform="translate(788.74,272.83) scale(1.1,1)" text-anchor="middle" font-size="12.0">22</text>
<text transform="translate(819.05,114.98) scale(1.1,1)" text-anchor="middle" font-size="12.0">1</text>
<text transform="translate(849.35,114.98) scale(1.1,1)" text-anchor="middle" font-size="12.0">2</text>
<text transform="translate(819.05,134.18) scale(1.1,1)" text-anchor="middle" font-size="12.0">2</text>
<text transform="translate(849.35,134.18) scale(1.1,1)" text-anchor="middle" font-size="12.0">3</text>
<text transform="translate(819.05,154.28) scale(1.1,1)" text-anchor="middle" font-size="12.0">3</text>
<text transform="translate(849.35,154.28) scale(1.1,1)" text-anchor="middle" font-size="12.0">4</text>
<text transform="translate(819.05,174.83) scale(1.1,1)" text-anchor="middle" font-size="12.0">5</text>
<text transform="translate(849.35,174.83) scale(1.1,1)" text-anchor="middle" font-size="12.0">6</text>
<text transform="translate(819.05,193.83) scale(1.1,1)" text-anchor="middle" font-size="12.0">7</text>
<text transform="translate(849.35,193.83) scale(1.1,1)" text-anchor="middle" font-size="12.0">8</text>
<text transform="translate(819.05,213.43) scale(1.1,1)" text-anchor="middle" font-size="12.0">10</text>
<text transform="translate(849.35,213.43) scale(1.1,1)" text-anchor="middle" font-size="12.0">11</text>
<text transform="translate(819.05,233.13) scale(1.1,1)" text-anchor="middle" font-size="12.0">14</text>
<text transform="translate(849.35,233.13) scale(1.1,1)" text-anchor="middle" font-size="12.0">15</text>
<text transform="translate(819.05,252.73) scale(1.1,1)" text-anchor="middle" font-size="12.0">21</text>
<text transform="translate(849.35,252.73) scale(1.1,1)" text-anchor="middle" font-size="12.0">22</text>
<text transform="translate(18.40,50.30) rotate(-90)" text-anchor="middle" font-size="6.8" font-weight="bold">Sample Size</text>
<text transform="translate(28.00,50.60) rotate(-90)" text-anchor="middle" font-size="6.8" font-weight="bold">Code Letter</text>
<text transform="translate(60.30,50.30) rotate(-90)" text-anchor="middle" font-size="6.8" font-weight="bold">Sample Size</text>
<rect x="620.8" y="23" width="60" height="375.2" rx="25" ry="25" fill="none" stroke="#008000" stroke-width="3.5"/>
<path d="M24.9 257.3 H655.1 A28 10.599999999999994 0 0 1 683.1 267.9 A28 10.599999999999994 0 0 1 655.1 278.5 H24.9 A24 10.599999999999994 0 0 1 0.9 267.9 A24 10.599999999999994 0 0 1 24.9 257.3 Z" fill="none" stroke="#008000" stroke-width="3.4"/>
</svg>
</body></html>
